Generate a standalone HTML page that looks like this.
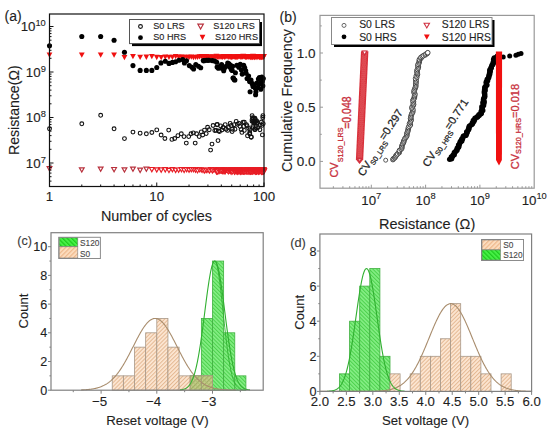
<!DOCTYPE html>
<html><head><meta charset="utf-8"><style>
html,body{margin:0;padding:0;background:#fff;}
svg{display:block;font-family:"Liberation Sans", sans-serif;}
text{stroke:currentColor;stroke-width:0.12px;}
</style></head><body>
<svg width="550" height="429" viewBox="0 0 550 429">
<defs>
<pattern id="hg" patternUnits="userSpaceOnUse" width="2.7" height="2.7" patternTransform="rotate(-45)">
<rect width="2.7" height="2.7" fill="#84ee84"/><rect width="1.0" height="2.7" fill="#4cd04c"/></pattern>
<pattern id="ht" patternUnits="userSpaceOnUse" width="2.8" height="2.8" patternTransform="rotate(45)">
<rect width="2.8" height="2.8" fill="#fce6d2"/><rect width="1.0" height="2.8" fill="#e4b892"/></pattern>
<pattern id="ho" patternUnits="userSpaceOnUse" width="3.2" height="3.2" patternTransform="rotate(45)">
<rect width="3.2" height="3.2" fill="#c4cc88"/><rect width="1.1" height="3.2" fill="#a2ac62"/></pattern>
<pattern id="ho2" patternUnits="userSpaceOnUse" width="3.2" height="3.2" patternTransform="rotate(-45)">
<rect width="1.0" height="3.2" fill="#a8bc70" fill-opacity="0.7"/></pattern>
<pattern id="hgl" patternUnits="userSpaceOnUse" width="3.2" height="3.2" patternTransform="rotate(-45)">
<rect width="3.2" height="3.2" fill="#46f046"/><rect width="1.2" height="3.2" fill="#1ec81e"/></pattern>
<pattern id="htl" patternUnits="userSpaceOnUse" width="3.2" height="3.2" patternTransform="rotate(45)">
<rect width="3.2" height="3.2" fill="#fcdcbe"/><rect width="1.2" height="3.2" fill="#eeb88c"/></pattern>
</defs>
<rect width="550" height="429" fill="#fff"/>
<path d="M47.10 166.65L51.90 166.65L49.50 170.95Z" fill="#fff" stroke="#b8303c" stroke-width="1.15"/>
<path d="M79.39 167.85L84.19 167.85L81.79 172.15Z" fill="#fff" stroke="#b8303c" stroke-width="1.15"/>
<path d="M98.27 167.05L103.07 167.05L100.67 171.35Z" fill="#fff" stroke="#b8303c" stroke-width="1.15"/>
<path d="M111.67 167.45L116.47 167.45L114.07 171.75Z" fill="#fff" stroke="#b8303c" stroke-width="1.15"/>
<path d="M122.06 167.85L126.86 167.85L124.46 172.15Z" fill="#fff" stroke="#b8303c" stroke-width="1.15"/>
<path d="M130.56 167.05L135.36 167.05L132.96 171.35Z" fill="#fff" stroke="#b8303c" stroke-width="1.15"/>
<path d="M137.74 168.15L142.54 168.15L140.14 172.45Z" fill="#fff" stroke="#b8303c" stroke-width="1.15"/>
<path d="M143.96 167.05L148.76 167.05L146.36 171.35Z" fill="#fff" stroke="#b8303c" stroke-width="1.15"/>
<path d="M149.44 167.45L154.24 167.45L151.84 171.75Z" fill="#fff" stroke="#e81c24" stroke-width="1.15"/>
<path d="M154.35 167.85L159.15 167.85L156.75 172.15Z" fill="#fff" stroke="#e81c24" stroke-width="1.15"/>
<path d="M158.79 167.90L163.59 167.90L161.19 172.20Z" fill="#fff" stroke="#e81c24" stroke-width="1.15"/>
<path d="M162.84 167.66L167.64 167.66L165.24 171.96Z" fill="#fff" stroke="#e81c24" stroke-width="1.15"/>
<path d="M166.57 168.36L171.37 168.36L168.97 172.66Z" fill="#fff" stroke="#e81c24" stroke-width="1.15"/>
<path d="M170.02 167.55L174.82 167.55L172.42 171.85Z" fill="#fff" stroke="#e81c24" stroke-width="1.15"/>
<path d="M173.24 168.20L178.04 168.20L175.64 172.50Z" fill="#fff" stroke="#e81c24" stroke-width="1.15"/>
<path d="M176.24 167.96L181.04 167.96L178.64 172.26Z" fill="#fff" stroke="#e81c24" stroke-width="1.15"/>
<path d="M179.07 167.53L183.87 167.53L181.47 171.83Z" fill="#fff" stroke="#e81c24" stroke-width="1.15"/>
<path d="M181.73 168.16L186.53 168.16L184.13 172.46Z" fill="#fff" stroke="#e81c24" stroke-width="1.15"/>
<path d="M184.25 167.50L189.05 167.50L186.65 171.80Z" fill="#fff" stroke="#e81c24" stroke-width="1.15"/>
<path d="M186.64 168.06L191.44 168.06L189.04 172.36Z" fill="#fff" stroke="#e81c24" stroke-width="1.15"/>
<path d="M188.91 167.55L193.71 167.55L191.31 171.85Z" fill="#fff" stroke="#e81c24" stroke-width="1.15"/>
<path d="M191.07 167.58L195.87 167.58L193.47 171.88Z" fill="#fff" stroke="#e81c24" stroke-width="1.15"/>
<path d="M193.15 168.04L197.95 168.04L195.55 172.34Z" fill="#fff" stroke="#e81c24" stroke-width="1.15"/>
<path d="M195.13 168.61L199.93 168.61L197.53 172.91Z" fill="#fff" stroke="#e81c24" stroke-width="1.15"/>
<path d="M197.03 167.62L201.83 167.62L199.43 171.92Z" fill="#fff" stroke="#e81c24" stroke-width="1.15"/>
<path d="M198.86 167.76L203.66 167.76L201.26 172.06Z" fill="#fff" stroke="#e81c24" stroke-width="1.15"/>
<path d="M200.61 168.33L205.41 168.33L203.01 172.63Z" fill="#fff" stroke="#e81c24" stroke-width="1.15"/>
<path d="M202.31 168.78L207.11 168.78L204.71 173.08Z" fill="#fff" stroke="#e81c24" stroke-width="1.15"/>
<path d="M203.94 168.26L208.74 168.26L206.34 172.56Z" fill="#fff" stroke="#e81c24" stroke-width="1.15"/>
<path d="M205.52 168.01L210.32 168.01L207.92 172.31Z" fill="#fff" stroke="#e81c24" stroke-width="1.15"/>
<path d="M207.05 168.82L211.85 168.82L209.45 173.12Z" fill="#fff" stroke="#e81c24" stroke-width="1.15"/>
<path d="M208.53 167.52L213.33 167.52L210.93 171.82Z" fill="#fff" stroke="#e81c24" stroke-width="1.15"/>
<path d="M209.96 168.65L214.76 168.65L212.36 172.95Z" fill="#fff" stroke="#e81c24" stroke-width="1.15"/>
<path d="M211.35 167.86L216.15 167.86L213.75 172.16Z" fill="#fff" stroke="#e81c24" stroke-width="1.15"/>
<path d="M212.70 167.65L217.50 167.65L215.10 171.95Z" fill="#fff" stroke="#e81c24" stroke-width="1.15"/>
<path d="M214.01 167.73L218.81 167.73L216.41 172.03Z" fill="#fff" stroke="#e81c24" stroke-width="1.15"/>
<path d="M215.29 168.19L220.09 168.19L217.69 172.49Z" fill="#fff" stroke="#e81c24" stroke-width="1.15"/>
<path d="M216.53 169.41L221.33 169.41L218.93 173.71Z" fill="#fff" stroke="#e81c24" stroke-width="1.15"/>
<path d="M217.74 167.88L222.54 167.88L220.14 172.18Z" fill="#fff" stroke="#e81c24" stroke-width="1.15"/>
<path d="M218.92 168.85L223.72 168.85L221.32 173.15Z" fill="#fff" stroke="#e81c24" stroke-width="1.15"/>
<path d="M220.07 168.98L224.87 168.98L222.47 173.28Z" fill="#fff" stroke="#e81c24" stroke-width="1.15"/>
<path d="M221.19 168.34L225.99 168.34L223.59 172.64Z" fill="#fff" stroke="#e81c24" stroke-width="1.15"/>
<path d="M222.29 168.76L227.09 168.76L224.69 173.06Z" fill="#fff" stroke="#e81c24" stroke-width="1.15"/>
<path d="M223.36 167.60L228.16 167.60L225.76 171.90Z" fill="#fff" stroke="#e81c24" stroke-width="1.15"/>
<path d="M224.41 167.59L229.21 167.59L226.81 171.89Z" fill="#fff" stroke="#e81c24" stroke-width="1.15"/>
<path d="M225.43 167.94L230.23 167.94L227.83 172.24Z" fill="#fff" stroke="#e81c24" stroke-width="1.15"/>
<path d="M226.43 169.08L231.23 169.08L228.83 173.38Z" fill="#fff" stroke="#e81c24" stroke-width="1.15"/>
<path d="M227.41 168.48L232.21 168.48L229.81 172.78Z" fill="#fff" stroke="#e81c24" stroke-width="1.15"/>
<path d="M228.37 168.20L233.17 168.20L230.77 172.50Z" fill="#fff" stroke="#e81c24" stroke-width="1.15"/>
<path d="M229.31 168.86L234.11 168.86L231.71 173.16Z" fill="#fff" stroke="#e81c24" stroke-width="1.15"/>
<path d="M230.24 168.54L235.04 168.54L232.64 172.84Z" fill="#fff" stroke="#e81c24" stroke-width="1.15"/>
<path d="M231.14 168.17L235.94 168.17L233.54 172.47Z" fill="#fff" stroke="#e81c24" stroke-width="1.15"/>
<path d="M232.03 169.36L236.83 169.36L234.43 173.66Z" fill="#fff" stroke="#e81c24" stroke-width="1.15"/>
<path d="M232.90 169.13L237.70 169.13L235.30 173.43Z" fill="#fff" stroke="#e81c24" stroke-width="1.15"/>
<path d="M233.75 168.04L238.55 168.04L236.15 172.34Z" fill="#fff" stroke="#e81c24" stroke-width="1.15"/>
<path d="M234.59 168.83L239.39 168.83L236.99 173.13Z" fill="#fff" stroke="#e81c24" stroke-width="1.15"/>
<path d="M235.42 168.71L240.22 168.71L237.82 173.01Z" fill="#fff" stroke="#e81c24" stroke-width="1.15"/>
<path d="M236.23 169.55L241.03 169.55L238.63 173.85Z" fill="#fff" stroke="#e81c24" stroke-width="1.15"/>
<path d="M237.02 169.20L241.82 169.20L239.42 173.50Z" fill="#fff" stroke="#e81c24" stroke-width="1.15"/>
<path d="M237.81 168.14L242.61 168.14L240.21 172.44Z" fill="#fff" stroke="#e81c24" stroke-width="1.15"/>
<path d="M238.58 169.80L243.38 169.80L240.98 174.10Z" fill="#fff" stroke="#e81c24" stroke-width="1.15"/>
<path d="M239.33 167.73L244.13 167.73L241.73 172.03Z" fill="#fff" stroke="#e81c24" stroke-width="1.15"/>
<path d="M240.08 168.45L244.88 168.45L242.48 172.75Z" fill="#fff" stroke="#e81c24" stroke-width="1.15"/>
<path d="M240.81 169.27L245.61 169.27L243.21 173.57Z" fill="#fff" stroke="#e81c24" stroke-width="1.15"/>
<path d="M241.53 167.81L246.33 167.81L243.93 172.11Z" fill="#fff" stroke="#e81c24" stroke-width="1.15"/>
<path d="M242.25 168.62L247.05 168.62L244.65 172.92Z" fill="#fff" stroke="#e81c24" stroke-width="1.15"/>
<path d="M242.95 167.54L247.75 167.54L245.35 171.84Z" fill="#fff" stroke="#e81c24" stroke-width="1.15"/>
<path d="M243.64 169.05L248.44 169.05L246.04 173.35Z" fill="#fff" stroke="#e81c24" stroke-width="1.15"/>
<path d="M244.32 169.28L249.12 169.28L246.72 173.58Z" fill="#fff" stroke="#e81c24" stroke-width="1.15"/>
<path d="M244.99 168.83L249.79 168.83L247.39 173.13Z" fill="#fff" stroke="#e81c24" stroke-width="1.15"/>
<path d="M245.65 169.55L250.45 169.55L248.05 173.85Z" fill="#fff" stroke="#e81c24" stroke-width="1.15"/>
<path d="M246.30 168.20L251.10 168.20L248.70 172.50Z" fill="#fff" stroke="#e81c24" stroke-width="1.15"/>
<path d="M246.94 169.12L251.74 169.12L249.34 173.42Z" fill="#fff" stroke="#e81c24" stroke-width="1.15"/>
<path d="M247.58 168.88L252.38 168.88L249.98 173.18Z" fill="#fff" stroke="#e81c24" stroke-width="1.15"/>
<path d="M248.20 168.84L253.00 168.84L250.60 173.14Z" fill="#fff" stroke="#e81c24" stroke-width="1.15"/>
<path d="M248.82 168.54L253.62 168.54L251.22 172.84Z" fill="#fff" stroke="#e81c24" stroke-width="1.15"/>
<path d="M249.43 169.47L254.23 169.47L251.83 173.77Z" fill="#fff" stroke="#e81c24" stroke-width="1.15"/>
<path d="M250.03 169.72L254.83 169.72L252.43 174.02Z" fill="#fff" stroke="#e81c24" stroke-width="1.15"/>
<path d="M250.62 168.59L255.42 168.59L253.02 172.89Z" fill="#fff" stroke="#e81c24" stroke-width="1.15"/>
<path d="M251.21 169.04L256.01 169.04L253.61 173.34Z" fill="#fff" stroke="#e81c24" stroke-width="1.15"/>
<path d="M251.79 167.60L256.59 167.60L254.19 171.90Z" fill="#fff" stroke="#e81c24" stroke-width="1.15"/>
<path d="M252.36 169.13L257.16 169.13L254.76 173.43Z" fill="#fff" stroke="#e81c24" stroke-width="1.15"/>
<path d="M252.92 169.00L257.72 169.00L255.32 173.30Z" fill="#fff" stroke="#e81c24" stroke-width="1.15"/>
<path d="M253.48 169.83L258.28 169.83L255.88 174.13Z" fill="#fff" stroke="#e81c24" stroke-width="1.15"/>
<path d="M254.03 169.42L258.83 169.42L256.43 173.72Z" fill="#fff" stroke="#e81c24" stroke-width="1.15"/>
<path d="M254.57 168.13L259.37 168.13L256.97 172.43Z" fill="#fff" stroke="#e81c24" stroke-width="1.15"/>
<path d="M255.11 168.38L259.91 168.38L257.51 172.68Z" fill="#fff" stroke="#e81c24" stroke-width="1.15"/>
<path d="M255.65 169.05L260.45 169.05L258.05 173.35Z" fill="#fff" stroke="#e81c24" stroke-width="1.15"/>
<path d="M256.17 167.50L260.97 167.50L258.57 171.80Z" fill="#fff" stroke="#e81c24" stroke-width="1.15"/>
<path d="M256.69 168.56L261.49 168.56L259.09 172.86Z" fill="#fff" stroke="#e81c24" stroke-width="1.15"/>
<path d="M257.21 167.85L262.01 167.85L259.61 172.15Z" fill="#fff" stroke="#e81c24" stroke-width="1.15"/>
<path d="M257.72 167.73L262.52 167.73L260.12 172.03Z" fill="#fff" stroke="#e81c24" stroke-width="1.15"/>
<path d="M258.22 167.59L263.02 167.59L260.62 171.89Z" fill="#fff" stroke="#e81c24" stroke-width="1.15"/>
<path d="M258.72 169.29L263.52 169.29L261.12 173.59Z" fill="#fff" stroke="#e81c24" stroke-width="1.15"/>
<path d="M259.21 167.76L264.01 167.76L261.61 172.06Z" fill="#fff" stroke="#e81c24" stroke-width="1.15"/>
<path d="M259.70 168.04L264.50 168.04L262.10 172.34Z" fill="#fff" stroke="#e81c24" stroke-width="1.15"/>
<path d="M260.18 168.39L264.98 168.39L262.58 172.69Z" fill="#fff" stroke="#e81c24" stroke-width="1.15"/>
<path d="M260.66 169.54L265.46 169.54L263.06 173.84Z" fill="#fff" stroke="#e81c24" stroke-width="1.15"/>
<path d="M261.13 167.64L265.93 167.64L263.53 171.94Z" fill="#fff" stroke="#e81c24" stroke-width="1.15"/>
<path d="M261.60 168.53L266.40 168.53L264.00 172.83Z" fill="#fff" stroke="#e81c24" stroke-width="1.15"/>
<path d="M214.08 169.66L218.88 169.66L216.48 173.96Z" fill="#fff" stroke="#e81c24" stroke-width="1.15"/>
<path d="M214.42 169.61L219.22 169.61L216.82 173.91Z" fill="#fff" stroke="#e81c24" stroke-width="1.15"/>
<path d="M215.01 168.49L219.81 168.49L217.41 172.79Z" fill="#fff" stroke="#e81c24" stroke-width="1.15"/>
<path d="M215.11 169.66L219.91 169.66L217.51 173.96Z" fill="#fff" stroke="#e81c24" stroke-width="1.15"/>
<path d="M217.09 167.83L221.89 167.83L219.49 172.13Z" fill="#fff" stroke="#e81c24" stroke-width="1.15"/>
<path d="M216.13 168.03L220.93 168.03L218.53 172.33Z" fill="#fff" stroke="#e81c24" stroke-width="1.15"/>
<path d="M217.42 168.66L222.22 168.66L219.82 172.96Z" fill="#fff" stroke="#e81c24" stroke-width="1.15"/>
<path d="M217.85 168.11L222.65 168.11L220.25 172.41Z" fill="#fff" stroke="#e81c24" stroke-width="1.15"/>
<path d="M218.34 168.50L223.14 168.50L220.74 172.80Z" fill="#fff" stroke="#e81c24" stroke-width="1.15"/>
<path d="M218.77 168.87L223.57 168.87L221.17 173.17Z" fill="#fff" stroke="#e81c24" stroke-width="1.15"/>
<path d="M220.58 169.18L225.38 169.18L222.98 173.48Z" fill="#fff" stroke="#e81c24" stroke-width="1.15"/>
<path d="M220.09 168.99L224.89 168.99L222.49 173.29Z" fill="#fff" stroke="#e81c24" stroke-width="1.15"/>
<path d="M221.39 167.58L226.19 167.58L223.79 171.88Z" fill="#fff" stroke="#e81c24" stroke-width="1.15"/>
<path d="M221.63 169.40L226.43 169.40L224.03 173.70Z" fill="#fff" stroke="#e81c24" stroke-width="1.15"/>
<path d="M222.69 169.44L227.49 169.44L225.09 173.74Z" fill="#fff" stroke="#e81c24" stroke-width="1.15"/>
<path d="M222.17 168.45L226.97 168.45L224.57 172.75Z" fill="#fff" stroke="#e81c24" stroke-width="1.15"/>
<path d="M222.94 169.04L227.74 169.04L225.34 173.34Z" fill="#fff" stroke="#e81c24" stroke-width="1.15"/>
<path d="M222.89 167.62L227.69 167.62L225.29 171.92Z" fill="#fff" stroke="#e81c24" stroke-width="1.15"/>
<path d="M224.10 167.86L228.90 167.86L226.50 172.16Z" fill="#fff" stroke="#e81c24" stroke-width="1.15"/>
<path d="M224.24 167.58L229.04 167.58L226.64 171.88Z" fill="#fff" stroke="#e81c24" stroke-width="1.15"/>
<path d="M224.92 167.83L229.72 167.83L227.32 172.13Z" fill="#fff" stroke="#e81c24" stroke-width="1.15"/>
<path d="M225.03 168.36L229.83 168.36L227.43 172.66Z" fill="#fff" stroke="#e81c24" stroke-width="1.15"/>
<path d="M225.96 169.64L230.76 169.64L228.36 173.94Z" fill="#fff" stroke="#e81c24" stroke-width="1.15"/>
<path d="M226.55 167.82L231.35 167.82L228.95 172.12Z" fill="#fff" stroke="#e81c24" stroke-width="1.15"/>
<path d="M227.17 168.32L231.97 168.32L229.57 172.62Z" fill="#fff" stroke="#e81c24" stroke-width="1.15"/>
<path d="M227.28 167.76L232.08 167.76L229.68 172.06Z" fill="#fff" stroke="#e81c24" stroke-width="1.15"/>
<path d="M228.70 169.93L233.50 169.93L231.10 174.23Z" fill="#fff" stroke="#e81c24" stroke-width="1.15"/>
<path d="M228.34 168.66L233.14 168.66L230.74 172.96Z" fill="#fff" stroke="#e81c24" stroke-width="1.15"/>
<path d="M228.93 167.71L233.73 167.71L231.33 172.01Z" fill="#fff" stroke="#e81c24" stroke-width="1.15"/>
<path d="M229.17 168.11L233.97 168.11L231.57 172.41Z" fill="#fff" stroke="#e81c24" stroke-width="1.15"/>
<path d="M230.54 167.85L235.34 167.85L232.94 172.15Z" fill="#fff" stroke="#e81c24" stroke-width="1.15"/>
<path d="M229.80 169.83L234.60 169.83L232.20 174.13Z" fill="#fff" stroke="#e81c24" stroke-width="1.15"/>
<path d="M231.17 167.82L235.97 167.82L233.57 172.12Z" fill="#fff" stroke="#e81c24" stroke-width="1.15"/>
<path d="M231.18 167.52L235.98 167.52L233.58 171.82Z" fill="#fff" stroke="#e81c24" stroke-width="1.15"/>
<path d="M232.05 169.90L236.85 169.90L234.45 174.20Z" fill="#fff" stroke="#e81c24" stroke-width="1.15"/>
<path d="M232.35 169.19L237.15 169.19L234.75 173.49Z" fill="#fff" stroke="#e81c24" stroke-width="1.15"/>
<path d="M232.69 168.37L237.49 168.37L235.09 172.67Z" fill="#fff" stroke="#e81c24" stroke-width="1.15"/>
<path d="M232.61 169.38L237.41 169.38L235.01 173.68Z" fill="#fff" stroke="#e81c24" stroke-width="1.15"/>
<path d="M233.78 169.40L238.58 169.40L236.18 173.70Z" fill="#fff" stroke="#e81c24" stroke-width="1.15"/>
<path d="M233.61 168.01L238.41 168.01L236.01 172.31Z" fill="#fff" stroke="#e81c24" stroke-width="1.15"/>
<path d="M234.85 169.91L239.65 169.91L237.25 174.21Z" fill="#fff" stroke="#e81c24" stroke-width="1.15"/>
<path d="M234.89 169.47L239.69 169.47L237.29 173.77Z" fill="#fff" stroke="#e81c24" stroke-width="1.15"/>
<path d="M235.68 169.30L240.48 169.30L238.08 173.60Z" fill="#fff" stroke="#e81c24" stroke-width="1.15"/>
<path d="M235.19 168.74L239.99 168.74L237.59 173.04Z" fill="#fff" stroke="#e81c24" stroke-width="1.15"/>
<path d="M236.11 167.52L240.91 167.52L238.51 171.82Z" fill="#fff" stroke="#e81c24" stroke-width="1.15"/>
<path d="M235.85 168.15L240.65 168.15L238.25 172.45Z" fill="#fff" stroke="#e81c24" stroke-width="1.15"/>
<path d="M236.83 169.18L241.63 169.18L239.23 173.48Z" fill="#fff" stroke="#e81c24" stroke-width="1.15"/>
<path d="M237.38 168.57L242.18 168.57L239.78 172.87Z" fill="#fff" stroke="#e81c24" stroke-width="1.15"/>
<path d="M238.14 169.92L242.94 169.92L240.54 174.22Z" fill="#fff" stroke="#e81c24" stroke-width="1.15"/>
<path d="M238.16 168.36L242.96 168.36L240.56 172.66Z" fill="#fff" stroke="#e81c24" stroke-width="1.15"/>
<path d="M238.36 168.02L243.16 168.02L240.76 172.32Z" fill="#fff" stroke="#e81c24" stroke-width="1.15"/>
<path d="M238.34 167.96L243.14 167.96L240.74 172.26Z" fill="#fff" stroke="#e81c24" stroke-width="1.15"/>
<path d="M239.43 169.70L244.23 169.70L241.83 174.00Z" fill="#fff" stroke="#e81c24" stroke-width="1.15"/>
<path d="M239.59 168.65L244.39 168.65L241.99 172.95Z" fill="#fff" stroke="#e81c24" stroke-width="1.15"/>
<path d="M240.19 169.45L244.99 169.45L242.59 173.75Z" fill="#fff" stroke="#e81c24" stroke-width="1.15"/>
<path d="M239.77 169.10L244.57 169.10L242.17 173.40Z" fill="#fff" stroke="#e81c24" stroke-width="1.15"/>
<path d="M241.11 169.41L245.91 169.41L243.51 173.71Z" fill="#fff" stroke="#e81c24" stroke-width="1.15"/>
<path d="M240.99 168.65L245.79 168.65L243.39 172.95Z" fill="#fff" stroke="#e81c24" stroke-width="1.15"/>
<path d="M241.30 169.42L246.10 169.42L243.70 173.72Z" fill="#fff" stroke="#e81c24" stroke-width="1.15"/>
<path d="M241.41 169.45L246.21 169.45L243.81 173.75Z" fill="#fff" stroke="#e81c24" stroke-width="1.15"/>
<path d="M242.58 168.44L247.38 168.44L244.98 172.74Z" fill="#fff" stroke="#e81c24" stroke-width="1.15"/>
<path d="M242.18 169.82L246.98 169.82L244.58 174.12Z" fill="#fff" stroke="#e81c24" stroke-width="1.15"/>
<path d="M243.10 167.88L247.90 167.88L245.50 172.18Z" fill="#fff" stroke="#e81c24" stroke-width="1.15"/>
<path d="M242.69 167.83L247.49 167.83L245.09 172.13Z" fill="#fff" stroke="#e81c24" stroke-width="1.15"/>
<path d="M243.91 169.47L248.71 169.47L246.31 173.77Z" fill="#fff" stroke="#e81c24" stroke-width="1.15"/>
<path d="M243.39 169.52L248.19 169.52L245.79 173.82Z" fill="#fff" stroke="#e81c24" stroke-width="1.15"/>
<path d="M244.64 169.09L249.44 169.09L247.04 173.39Z" fill="#fff" stroke="#e81c24" stroke-width="1.15"/>
<path d="M244.22 168.82L249.02 168.82L246.62 173.12Z" fill="#fff" stroke="#e81c24" stroke-width="1.15"/>
<path d="M244.74 167.49L249.54 167.49L247.14 171.79Z" fill="#fff" stroke="#e81c24" stroke-width="1.15"/>
<path d="M245.30 169.07L250.10 169.07L247.70 173.37Z" fill="#fff" stroke="#e81c24" stroke-width="1.15"/>
<path d="M245.66 169.78L250.46 169.78L248.06 174.08Z" fill="#fff" stroke="#e81c24" stroke-width="1.15"/>
<path d="M245.60 169.63L250.40 169.63L248.00 173.93Z" fill="#fff" stroke="#e81c24" stroke-width="1.15"/>
<path d="M246.51 167.98L251.31 167.98L248.91 172.28Z" fill="#fff" stroke="#e81c24" stroke-width="1.15"/>
<path d="M246.14 168.18L250.94 168.18L248.54 172.48Z" fill="#fff" stroke="#e81c24" stroke-width="1.15"/>
<path d="M246.78 168.92L251.58 168.92L249.18 173.22Z" fill="#fff" stroke="#e81c24" stroke-width="1.15"/>
<path d="M246.79 168.50L251.59 168.50L249.19 172.80Z" fill="#fff" stroke="#e81c24" stroke-width="1.15"/>
<path d="M247.34 169.73L252.14 169.73L249.74 174.03Z" fill="#fff" stroke="#e81c24" stroke-width="1.15"/>
<path d="M247.48 168.60L252.28 168.60L249.88 172.90Z" fill="#fff" stroke="#e81c24" stroke-width="1.15"/>
<path d="M248.25 169.71L253.05 169.71L250.65 174.01Z" fill="#fff" stroke="#e81c24" stroke-width="1.15"/>
<path d="M248.15 169.74L252.95 169.74L250.55 174.04Z" fill="#fff" stroke="#e81c24" stroke-width="1.15"/>
<path d="M248.82 168.78L253.62 168.78L251.22 173.08Z" fill="#fff" stroke="#e81c24" stroke-width="1.15"/>
<path d="M248.83 167.50L253.63 167.50L251.23 171.80Z" fill="#fff" stroke="#e81c24" stroke-width="1.15"/>
<path d="M249.39 167.91L254.19 167.91L251.79 172.21Z" fill="#fff" stroke="#e81c24" stroke-width="1.15"/>
<path d="M249.13 169.45L253.93 169.45L251.53 173.75Z" fill="#fff" stroke="#e81c24" stroke-width="1.15"/>
<path d="M249.83 168.63L254.63 168.63L252.23 172.93Z" fill="#fff" stroke="#e81c24" stroke-width="1.15"/>
<path d="M250.16 168.84L254.96 168.84L252.56 173.14Z" fill="#fff" stroke="#e81c24" stroke-width="1.15"/>
<path d="M250.52 168.75L255.32 168.75L252.92 173.05Z" fill="#fff" stroke="#e81c24" stroke-width="1.15"/>
<path d="M250.65 169.41L255.45 169.41L253.05 173.71Z" fill="#fff" stroke="#e81c24" stroke-width="1.15"/>
<path d="M250.98 168.85L255.78 168.85L253.38 173.15Z" fill="#fff" stroke="#e81c24" stroke-width="1.15"/>
<path d="M251.06 168.14L255.86 168.14L253.46 172.44Z" fill="#fff" stroke="#e81c24" stroke-width="1.15"/>
<path d="M251.94 168.72L256.74 168.72L254.34 173.02Z" fill="#fff" stroke="#e81c24" stroke-width="1.15"/>
<path d="M251.82 169.35L256.62 169.35L254.22 173.65Z" fill="#fff" stroke="#e81c24" stroke-width="1.15"/>
<path d="M252.59 168.56L257.39 168.56L254.99 172.86Z" fill="#fff" stroke="#e81c24" stroke-width="1.15"/>
<path d="M252.42 168.71L257.22 168.71L254.82 173.01Z" fill="#fff" stroke="#e81c24" stroke-width="1.15"/>
<path d="M252.93 169.18L257.73 169.18L255.33 173.48Z" fill="#fff" stroke="#e81c24" stroke-width="1.15"/>
<path d="M252.89 168.78L257.69 168.78L255.29 173.08Z" fill="#fff" stroke="#e81c24" stroke-width="1.15"/>
<path d="M253.47 169.80L258.27 169.80L255.87 174.10Z" fill="#fff" stroke="#e81c24" stroke-width="1.15"/>
<path d="M253.59 169.64L258.39 169.64L255.99 173.94Z" fill="#fff" stroke="#e81c24" stroke-width="1.15"/>
<path d="M254.27 168.10L259.07 168.10L256.67 172.40Z" fill="#fff" stroke="#e81c24" stroke-width="1.15"/>
<path d="M254.06 169.81L258.86 169.81L256.46 174.11Z" fill="#fff" stroke="#e81c24" stroke-width="1.15"/>
<path d="M254.76 167.79L259.56 167.79L257.16 172.09Z" fill="#fff" stroke="#e81c24" stroke-width="1.15"/>
<path d="M254.37 168.56L259.17 168.56L256.77 172.86Z" fill="#fff" stroke="#e81c24" stroke-width="1.15"/>
<path d="M254.88 168.05L259.68 168.05L257.28 172.35Z" fill="#fff" stroke="#e81c24" stroke-width="1.15"/>
<path d="M254.88 169.12L259.68 169.12L257.28 173.42Z" fill="#fff" stroke="#e81c24" stroke-width="1.15"/>
<path d="M255.80 169.69L260.60 169.69L258.20 173.99Z" fill="#fff" stroke="#e81c24" stroke-width="1.15"/>
<path d="M255.46 169.24L260.26 169.24L257.86 173.54Z" fill="#fff" stroke="#e81c24" stroke-width="1.15"/>
<path d="M256.26 167.81L261.06 167.81L258.66 172.11Z" fill="#fff" stroke="#e81c24" stroke-width="1.15"/>
<path d="M256.37 169.87L261.17 169.87L258.77 174.17Z" fill="#fff" stroke="#e81c24" stroke-width="1.15"/>
<path d="M256.55 169.83L261.35 169.83L258.95 174.13Z" fill="#fff" stroke="#e81c24" stroke-width="1.15"/>
<path d="M256.64 168.67L261.44 168.67L259.04 172.97Z" fill="#fff" stroke="#e81c24" stroke-width="1.15"/>
<path d="M257.46 169.53L262.26 169.53L259.86 173.83Z" fill="#fff" stroke="#e81c24" stroke-width="1.15"/>
<path d="M257.03 168.53L261.83 168.53L259.43 172.83Z" fill="#fff" stroke="#e81c24" stroke-width="1.15"/>
<path d="M257.72 168.30L262.52 168.30L260.12 172.60Z" fill="#fff" stroke="#e81c24" stroke-width="1.15"/>
<path d="M257.56 168.25L262.36 168.25L259.96 172.55Z" fill="#fff" stroke="#e81c24" stroke-width="1.15"/>
<path d="M258.33 167.50L263.13 167.50L260.73 171.80Z" fill="#fff" stroke="#e81c24" stroke-width="1.15"/>
<path d="M258.25 168.55L263.05 168.55L260.65 172.85Z" fill="#fff" stroke="#e81c24" stroke-width="1.15"/>
<path d="M258.48 168.28L263.28 168.28L260.88 172.58Z" fill="#fff" stroke="#e81c24" stroke-width="1.15"/>
<path d="M258.78 168.73L263.58 168.73L261.18 173.03Z" fill="#fff" stroke="#e81c24" stroke-width="1.15"/>
<path d="M259.00 169.91L263.80 169.91L261.40 174.21Z" fill="#fff" stroke="#e81c24" stroke-width="1.15"/>
<path d="M259.35 169.88L264.15 169.88L261.75 174.18Z" fill="#fff" stroke="#e81c24" stroke-width="1.15"/>
<path d="M259.51 168.11L264.31 168.11L261.91 172.41Z" fill="#fff" stroke="#e81c24" stroke-width="1.15"/>
<path d="M259.47 169.40L264.27 169.40L261.87 173.70Z" fill="#fff" stroke="#e81c24" stroke-width="1.15"/>
<path d="M260.07 167.77L264.87 167.77L262.47 172.07Z" fill="#fff" stroke="#e81c24" stroke-width="1.15"/>
<path d="M260.14 169.73L264.94 169.73L262.54 174.03Z" fill="#fff" stroke="#e81c24" stroke-width="1.15"/>
<path d="M260.81 168.10L265.61 168.10L263.21 172.40Z" fill="#fff" stroke="#e81c24" stroke-width="1.15"/>
<path d="M260.49 169.75L265.29 169.75L262.89 174.05Z" fill="#fff" stroke="#e81c24" stroke-width="1.15"/>
<path d="M261.17 169.20L265.97 169.20L263.57 173.50Z" fill="#fff" stroke="#e81c24" stroke-width="1.15"/>
<path d="M260.94 167.59L265.74 167.59L263.34 171.89Z" fill="#fff" stroke="#e81c24" stroke-width="1.15"/>
<path d="M261.69 168.51L266.49 168.51L264.09 172.81Z" fill="#fff" stroke="#e81c24" stroke-width="1.15"/>
<path d="M261.40 169.80L266.20 169.80L263.80 174.10Z" fill="#fff" stroke="#e81c24" stroke-width="1.15"/>
<path d="M220.79 168.16L226.39 168.16L223.59 172.76Z" fill="#e81c24" stroke="none" stroke-width="1"/>
<path d="M222.96 168.36L228.56 168.36L225.76 172.96Z" fill="#e81c24" stroke="none" stroke-width="1"/>
<path d="M225.03 167.50L230.63 167.50L227.83 172.10Z" fill="#e81c24" stroke="none" stroke-width="1"/>
<path d="M227.01 168.43L232.61 168.43L229.81 173.03Z" fill="#e81c24" stroke="none" stroke-width="1"/>
<path d="M228.91 167.48L234.51 167.48L231.71 172.08Z" fill="#e81c24" stroke="none" stroke-width="1"/>
<path d="M230.74 168.44L236.34 168.44L233.54 173.04Z" fill="#e81c24" stroke="none" stroke-width="1"/>
<path d="M232.50 167.94L238.10 167.94L235.30 172.54Z" fill="#e81c24" stroke="none" stroke-width="1"/>
<path d="M234.19 167.81L239.79 167.81L236.99 172.41Z" fill="#e81c24" stroke="none" stroke-width="1"/>
<path d="M235.83 168.06L241.43 168.06L238.63 172.66Z" fill="#e81c24" stroke="none" stroke-width="1"/>
<path d="M237.41 168.51L243.01 168.51L240.21 173.11Z" fill="#e81c24" stroke="none" stroke-width="1"/>
<path d="M238.93 167.72L244.53 167.72L241.73 172.32Z" fill="#e81c24" stroke="none" stroke-width="1"/>
<path d="M240.41 167.56L246.01 167.56L243.21 172.16Z" fill="#e81c24" stroke="none" stroke-width="1"/>
<path d="M241.85 168.03L247.45 168.03L244.65 172.63Z" fill="#e81c24" stroke="none" stroke-width="1"/>
<path d="M243.24 167.69L248.84 167.69L246.04 172.29Z" fill="#e81c24" stroke="none" stroke-width="1"/>
<path d="M244.59 167.53L250.19 167.53L247.39 172.13Z" fill="#e81c24" stroke="none" stroke-width="1"/>
<path d="M245.90 167.59L251.50 167.59L248.70 172.19Z" fill="#e81c24" stroke="none" stroke-width="1"/>
<path d="M247.18 167.46L252.78 167.46L249.98 172.06Z" fill="#e81c24" stroke="none" stroke-width="1"/>
<path d="M248.42 167.64L254.02 167.64L251.22 172.24Z" fill="#e81c24" stroke="none" stroke-width="1"/>
<path d="M249.63 167.77L255.23 167.77L252.43 172.37Z" fill="#e81c24" stroke="none" stroke-width="1"/>
<path d="M250.81 167.77L256.41 167.77L253.61 172.37Z" fill="#e81c24" stroke="none" stroke-width="1"/>
<path d="M251.96 168.31L257.56 168.31L254.76 172.91Z" fill="#e81c24" stroke="none" stroke-width="1"/>
<path d="M253.08 167.75L258.68 167.75L255.88 172.35Z" fill="#e81c24" stroke="none" stroke-width="1"/>
<path d="M254.17 168.00L259.77 168.00L256.97 172.60Z" fill="#e81c24" stroke="none" stroke-width="1"/>
<path d="M255.25 167.61L260.85 167.61L258.05 172.21Z" fill="#e81c24" stroke="none" stroke-width="1"/>
<path d="M256.29 167.82L261.89 167.82L259.09 172.42Z" fill="#e81c24" stroke="none" stroke-width="1"/>
<path d="M257.32 167.42L262.92 167.42L260.12 172.02Z" fill="#e81c24" stroke="none" stroke-width="1"/>
<path d="M258.32 167.70L263.92 167.70L261.12 172.30Z" fill="#e81c24" stroke="none" stroke-width="1"/>
<path d="M259.30 167.42L264.90 167.42L262.10 172.02Z" fill="#e81c24" stroke="none" stroke-width="1"/>
<path d="M260.26 168.28L265.86 168.28L263.06 172.88Z" fill="#e81c24" stroke="none" stroke-width="1"/>
<path d="M261.20 168.06L266.80 168.06L264.00 172.66Z" fill="#e81c24" stroke="none" stroke-width="1"/>
<circle cx="49.50" cy="128.80" r="1.9" fill="none" stroke="#111" stroke-width="1.1"/>
<circle cx="81.79" cy="123.80" r="1.9" fill="none" stroke="#111" stroke-width="1.1"/>
<circle cx="100.67" cy="115.30" r="1.9" fill="none" stroke="#111" stroke-width="1.1"/>
<circle cx="114.07" cy="128.80" r="1.9" fill="none" stroke="#111" stroke-width="1.1"/>
<circle cx="124.46" cy="138.60" r="1.9" fill="none" stroke="#111" stroke-width="1.1"/>
<circle cx="132.96" cy="132.10" r="1.9" fill="none" stroke="#111" stroke-width="1.1"/>
<circle cx="140.14" cy="133.20" r="1.9" fill="none" stroke="#111" stroke-width="1.1"/>
<circle cx="146.36" cy="133.80" r="1.9" fill="none" stroke="#111" stroke-width="1.1"/>
<circle cx="151.84" cy="132.50" r="1.9" fill="none" stroke="#111" stroke-width="1.1"/>
<circle cx="156.75" cy="129.90" r="1.9" fill="none" stroke="#111" stroke-width="1.1"/>
<circle cx="161.10" cy="135.00" r="1.9" fill="none" stroke="#111" stroke-width="1.1"/>
<circle cx="164.90" cy="138.50" r="1.9" fill="none" stroke="#111" stroke-width="1.1"/>
<circle cx="168.70" cy="130.10" r="1.9" fill="none" stroke="#111" stroke-width="1.1"/>
<circle cx="171.90" cy="139.40" r="1.9" fill="none" stroke="#111" stroke-width="1.1"/>
<circle cx="174.70" cy="138.50" r="1.9" fill="none" stroke="#111" stroke-width="1.1"/>
<circle cx="177.90" cy="135.70" r="1.9" fill="none" stroke="#111" stroke-width="1.1"/>
<circle cx="181.30" cy="133.80" r="1.9" fill="none" stroke="#111" stroke-width="1.1"/>
<circle cx="184.00" cy="136.60" r="1.9" fill="none" stroke="#111" stroke-width="1.1"/>
<circle cx="186.30" cy="143.10" r="1.9" fill="none" stroke="#111" stroke-width="1.1"/>
<circle cx="188.70" cy="136.60" r="1.9" fill="none" stroke="#111" stroke-width="1.1"/>
<circle cx="191.00" cy="133.80" r="1.9" fill="none" stroke="#111" stroke-width="1.1"/>
<circle cx="193.30" cy="132.90" r="1.9" fill="none" stroke="#111" stroke-width="1.1"/>
<circle cx="195.20" cy="143.10" r="1.9" fill="none" stroke="#111" stroke-width="1.1"/>
<circle cx="196.60" cy="133.80" r="1.9" fill="none" stroke="#111" stroke-width="1.1"/>
<circle cx="199.20" cy="136.60" r="1.9" fill="none" stroke="#111" stroke-width="1.1"/>
<circle cx="201.30" cy="131.90" r="1.9" fill="none" stroke="#111" stroke-width="1.1"/>
<circle cx="202.70" cy="135.00" r="1.9" fill="none" stroke="#111" stroke-width="1.1"/>
<circle cx="204.50" cy="130.10" r="1.9" fill="none" stroke="#111" stroke-width="1.1"/>
<circle cx="206.20" cy="133.60" r="1.9" fill="none" stroke="#111" stroke-width="1.1"/>
<circle cx="207.60" cy="127.30" r="1.9" fill="none" stroke="#111" stroke-width="1.1"/>
<circle cx="209.20" cy="129.70" r="1.9" fill="none" stroke="#111" stroke-width="1.1"/>
<circle cx="210.60" cy="150.10" r="1.9" fill="none" stroke="#111" stroke-width="1.1"/>
<circle cx="212.00" cy="144.10" r="1.9" fill="none" stroke="#111" stroke-width="1.1"/>
<circle cx="213.10" cy="125.50" r="1.9" fill="none" stroke="#111" stroke-width="1.1"/>
<circle cx="214.80" cy="130.50" r="1.9" fill="none" stroke="#111" stroke-width="1.1"/>
<circle cx="217.30" cy="124.50" r="1.9" fill="none" stroke="#111" stroke-width="1.1"/>
<circle cx="218.00" cy="140.60" r="1.9" fill="none" stroke="#111" stroke-width="1.1"/>
<circle cx="218.70" cy="131.00" r="1.9" fill="none" stroke="#111" stroke-width="1.1"/>
<circle cx="217.00" cy="124.70" r="1.9" fill="none" stroke="#111" stroke-width="1.1"/>
<circle cx="216.20" cy="130.40" r="1.9" fill="none" stroke="#111" stroke-width="1.1"/>
<circle cx="219.50" cy="131.60" r="1.9" fill="none" stroke="#111" stroke-width="1.1"/>
<circle cx="220.70" cy="125.90" r="1.9" fill="none" stroke="#111" stroke-width="1.1"/>
<circle cx="221.90" cy="130.00" r="1.9" fill="none" stroke="#111" stroke-width="1.1"/>
<circle cx="223.10" cy="127.50" r="1.9" fill="none" stroke="#111" stroke-width="1.1"/>
<circle cx="225.20" cy="124.70" r="1.9" fill="none" stroke="#111" stroke-width="1.1"/>
<circle cx="226.00" cy="129.20" r="1.9" fill="none" stroke="#111" stroke-width="1.1"/>
<circle cx="227.60" cy="130.40" r="1.9" fill="none" stroke="#111" stroke-width="1.1"/>
<circle cx="228.40" cy="127.50" r="1.9" fill="none" stroke="#111" stroke-width="1.1"/>
<circle cx="230.10" cy="123.40" r="1.9" fill="none" stroke="#111" stroke-width="1.1"/>
<circle cx="231.30" cy="125.50" r="1.9" fill="none" stroke="#111" stroke-width="1.1"/>
<circle cx="232.10" cy="131.60" r="1.9" fill="none" stroke="#111" stroke-width="1.1"/>
<circle cx="232.50" cy="129.20" r="1.9" fill="none" stroke="#111" stroke-width="1.1"/>
<circle cx="234.20" cy="124.70" r="1.9" fill="none" stroke="#111" stroke-width="1.1"/>
<circle cx="235.00" cy="129.20" r="1.9" fill="none" stroke="#111" stroke-width="1.1"/>
<circle cx="236.20" cy="121.40" r="1.9" fill="none" stroke="#111" stroke-width="1.1"/>
<circle cx="237.40" cy="124.30" r="1.9" fill="none" stroke="#111" stroke-width="1.1"/>
<circle cx="239.00" cy="123.40" r="1.9" fill="none" stroke="#111" stroke-width="1.1"/>
<circle cx="239.90" cy="126.30" r="1.9" fill="none" stroke="#111" stroke-width="1.1"/>
<circle cx="241.10" cy="129.60" r="1.9" fill="none" stroke="#111" stroke-width="1.1"/>
<circle cx="241.90" cy="132.40" r="1.9" fill="none" stroke="#111" stroke-width="1.1"/>
<circle cx="243.10" cy="122.20" r="1.9" fill="none" stroke="#111" stroke-width="1.1"/>
<circle cx="243.90" cy="126.30" r="1.9" fill="none" stroke="#111" stroke-width="1.1"/>
<circle cx="244.30" cy="130.40" r="1.9" fill="none" stroke="#111" stroke-width="1.1"/>
<circle cx="262.90" cy="115.70" r="1.9" fill="none" stroke="#111" stroke-width="1.1"/>
<circle cx="262.40" cy="134.90" r="1.9" fill="none" stroke="#111" stroke-width="1.1"/>
<circle cx="252.10" cy="115.70" r="1.9" fill="none" stroke="#111" stroke-width="1.1"/>
<circle cx="253.50" cy="118.10" r="1.9" fill="none" stroke="#111" stroke-width="1.1"/>
<circle cx="247.50" cy="135.80" r="1.9" fill="none" stroke="#111" stroke-width="1.1"/>
<circle cx="251.20" cy="137.20" r="1.9" fill="none" stroke="#111" stroke-width="1.1"/>
<circle cx="249.80" cy="134.00" r="1.9" fill="none" stroke="#111" stroke-width="1.1"/>
<circle cx="255.00" cy="129.30" r="1.9" fill="none" stroke="#111" stroke-width="1.1"/>
<circle cx="251.30" cy="137.00" r="1.9" fill="none" stroke="#111" stroke-width="1.1"/>
<circle cx="254.18" cy="122.65" r="1.9" fill="none" stroke="#111" stroke-width="1.1"/>
<circle cx="262.75" cy="117.49" r="1.9" fill="none" stroke="#111" stroke-width="1.1"/>
<circle cx="261.42" cy="122.05" r="1.9" fill="none" stroke="#111" stroke-width="1.1"/>
<circle cx="257.69" cy="127.68" r="1.9" fill="none" stroke="#111" stroke-width="1.1"/>
<circle cx="256.52" cy="123.09" r="1.9" fill="none" stroke="#111" stroke-width="1.1"/>
<circle cx="259.91" cy="129.75" r="1.9" fill="none" stroke="#111" stroke-width="1.1"/>
<circle cx="255.94" cy="127.65" r="1.9" fill="none" stroke="#111" stroke-width="1.1"/>
<circle cx="260.13" cy="124.90" r="1.9" fill="none" stroke="#111" stroke-width="1.1"/>
<circle cx="256.65" cy="120.87" r="1.9" fill="none" stroke="#111" stroke-width="1.1"/>
<circle cx="252.63" cy="117.82" r="1.9" fill="none" stroke="#111" stroke-width="1.1"/>
<circle cx="252.81" cy="126.37" r="1.9" fill="none" stroke="#111" stroke-width="1.1"/>
<circle cx="254.94" cy="118.29" r="1.9" fill="none" stroke="#111" stroke-width="1.1"/>
<circle cx="252.97" cy="127.78" r="1.9" fill="none" stroke="#111" stroke-width="1.1"/>
<circle cx="262.01" cy="125.39" r="1.9" fill="none" stroke="#111" stroke-width="1.1"/>
<circle cx="255.24" cy="119.39" r="1.9" fill="none" stroke="#111" stroke-width="1.1"/>
<circle cx="255.37" cy="122.43" r="1.9" fill="none" stroke="#111" stroke-width="1.1"/>
<circle cx="253.81" cy="122.24" r="1.9" fill="none" stroke="#111" stroke-width="1.1"/>
<circle cx="255.03" cy="129.47" r="1.9" fill="none" stroke="#111" stroke-width="1.1"/>
<circle cx="263.19" cy="123.66" r="1.9" fill="none" stroke="#111" stroke-width="1.1"/>
<circle cx="254.81" cy="129.52" r="1.9" fill="none" stroke="#111" stroke-width="1.1"/>
<circle cx="255.56" cy="120.99" r="1.9" fill="none" stroke="#111" stroke-width="1.1"/>
<circle cx="252.01" cy="121.34" r="1.9" fill="none" stroke="#111" stroke-width="1.1"/>
<circle cx="257.46" cy="123.04" r="1.9" fill="none" stroke="#111" stroke-width="1.1"/>
<circle cx="254.31" cy="123.07" r="1.9" fill="none" stroke="#111" stroke-width="1.1"/>
<circle cx="252.06" cy="119.70" r="1.9" fill="none" stroke="#111" stroke-width="1.1"/>
<circle cx="253.03" cy="121.59" r="1.9" fill="none" stroke="#111" stroke-width="1.1"/>
<circle cx="244.33" cy="122.27" r="1.9" fill="none" stroke="#111" stroke-width="1.1"/>
<circle cx="246.43" cy="124.79" r="1.9" fill="none" stroke="#111" stroke-width="1.1"/>
<circle cx="248.68" cy="128.35" r="1.9" fill="none" stroke="#111" stroke-width="1.1"/>
<circle cx="250.00" cy="129.89" r="1.9" fill="none" stroke="#111" stroke-width="1.1"/>
<circle cx="249.73" cy="132.55" r="1.9" fill="none" stroke="#111" stroke-width="1.1"/>
<circle cx="247.12" cy="125.91" r="1.9" fill="none" stroke="#111" stroke-width="1.1"/>
<path d="M46.60 52.45L52.40 52.45L49.50 57.75Z" fill="#f01010" stroke="none" stroke-width="1"/>
<path d="M78.89 52.45L84.69 52.45L81.79 57.75Z" fill="#f01010" stroke="none" stroke-width="1"/>
<path d="M97.77 52.45L103.57 52.45L100.67 57.75Z" fill="#f01010" stroke="none" stroke-width="1"/>
<path d="M111.17 52.45L116.97 52.45L114.07 57.75Z" fill="#f01010" stroke="none" stroke-width="1"/>
<path d="M121.56 55.03L127.36 55.03L124.46 60.33Z" fill="#f01010" stroke="none" stroke-width="1"/>
<path d="M130.06 54.03L135.86 54.03L132.96 59.33Z" fill="#f01010" stroke="none" stroke-width="1"/>
<path d="M137.24 54.72L143.04 54.72L140.14 60.02Z" fill="#f01010" stroke="none" stroke-width="1"/>
<path d="M143.46 54.62L149.26 54.62L146.36 59.92Z" fill="#f01010" stroke="none" stroke-width="1"/>
<path d="M148.94 53.90L154.74 53.90L151.84 59.20Z" fill="#f01010" stroke="none" stroke-width="1"/>
<path d="M153.85 54.85L159.65 54.85L156.75 60.15Z" fill="#f01010" stroke="none" stroke-width="1"/>
<path d="M158.29 54.92L164.09 54.92L161.19 60.22Z" fill="#f01010" stroke="none" stroke-width="1"/>
<path d="M162.34 54.60L168.14 54.60L165.24 59.90Z" fill="#f01010" stroke="none" stroke-width="1"/>
<path d="M166.07 54.73L171.87 54.73L168.97 60.03Z" fill="#f01010" stroke="none" stroke-width="1"/>
<path d="M169.52 54.82L175.32 54.82L172.42 60.12Z" fill="#f01010" stroke="none" stroke-width="1"/>
<path d="M172.74 54.02L178.54 54.02L175.64 59.32Z" fill="#f01010" stroke="none" stroke-width="1"/>
<path d="M175.74 54.48L181.54 54.48L178.64 59.78Z" fill="#f01010" stroke="none" stroke-width="1"/>
<path d="M178.57 54.46L184.37 54.46L181.47 59.76Z" fill="#f01010" stroke="none" stroke-width="1"/>
<path d="M181.23 54.85L187.03 54.85L184.13 60.15Z" fill="#f01010" stroke="none" stroke-width="1"/>
<path d="M183.75 54.82L189.55 54.82L186.65 60.12Z" fill="#f01010" stroke="none" stroke-width="1"/>
<path d="M186.14 54.84L191.94 54.84L189.04 60.14Z" fill="#f01010" stroke="none" stroke-width="1"/>
<path d="M188.41 54.55L194.21 54.55L191.31 59.85Z" fill="#f01010" stroke="none" stroke-width="1"/>
<path d="M190.57 54.92L196.37 54.92L193.47 60.22Z" fill="#f01010" stroke="none" stroke-width="1"/>
<path d="M192.65 54.67L198.45 54.67L195.55 59.97Z" fill="#f01010" stroke="none" stroke-width="1"/>
<path d="M194.63 54.68L200.43 54.68L197.53 59.98Z" fill="#f01010" stroke="none" stroke-width="1"/>
<path d="M196.53 54.13L202.33 54.13L199.43 59.43Z" fill="#f01010" stroke="none" stroke-width="1"/>
<path d="M198.36 53.89L204.16 53.89L201.26 59.19Z" fill="#f01010" stroke="none" stroke-width="1"/>
<path d="M200.11 54.01L205.91 54.01L203.01 59.31Z" fill="#f01010" stroke="none" stroke-width="1"/>
<path d="M201.81 54.28L207.61 54.28L204.71 59.58Z" fill="#f01010" stroke="none" stroke-width="1"/>
<path d="M203.44 53.98L209.24 53.98L206.34 59.28Z" fill="#f01010" stroke="none" stroke-width="1"/>
<path d="M205.02 54.85L210.82 54.85L207.92 60.15Z" fill="#f01010" stroke="none" stroke-width="1"/>
<path d="M206.55 54.52L212.35 54.52L209.45 59.82Z" fill="#f01010" stroke="none" stroke-width="1"/>
<path d="M208.03 54.60L213.83 54.60L210.93 59.90Z" fill="#f01010" stroke="none" stroke-width="1"/>
<path d="M209.46 54.60L215.26 54.60L212.36 59.90Z" fill="#f01010" stroke="none" stroke-width="1"/>
<path d="M210.85 54.67L216.65 54.67L213.75 59.97Z" fill="#f01010" stroke="none" stroke-width="1"/>
<path d="M212.20 54.44L218.00 54.44L215.10 59.74Z" fill="#f01010" stroke="none" stroke-width="1"/>
<path d="M213.51 53.85L219.31 53.85L216.41 59.15Z" fill="#f01010" stroke="none" stroke-width="1"/>
<path d="M214.79 54.81L220.59 54.81L217.69 60.11Z" fill="#f01010" stroke="none" stroke-width="1"/>
<path d="M216.03 54.75L221.83 54.75L218.93 60.05Z" fill="#f01010" stroke="none" stroke-width="1"/>
<path d="M217.24 54.45L223.04 54.45L220.14 59.75Z" fill="#f01010" stroke="none" stroke-width="1"/>
<path d="M218.42 54.49L224.22 54.49L221.32 59.79Z" fill="#f01010" stroke="none" stroke-width="1"/>
<path d="M219.57 54.64L225.37 54.64L222.47 59.94Z" fill="#f01010" stroke="none" stroke-width="1"/>
<path d="M220.69 53.93L226.49 53.93L223.59 59.23Z" fill="#f01010" stroke="none" stroke-width="1"/>
<path d="M221.79 54.73L227.59 54.73L224.69 60.03Z" fill="#f01010" stroke="none" stroke-width="1"/>
<path d="M222.86 54.15L228.66 54.15L225.76 59.45Z" fill="#f01010" stroke="none" stroke-width="1"/>
<path d="M223.91 53.94L229.71 53.94L226.81 59.24Z" fill="#f01010" stroke="none" stroke-width="1"/>
<path d="M224.93 54.17L230.73 54.17L227.83 59.47Z" fill="#f01010" stroke="none" stroke-width="1"/>
<path d="M225.93 54.73L231.73 54.73L228.83 60.03Z" fill="#f01010" stroke="none" stroke-width="1"/>
<path d="M226.91 54.10L232.71 54.10L229.81 59.40Z" fill="#f01010" stroke="none" stroke-width="1"/>
<path d="M227.87 54.74L233.67 54.74L230.77 60.04Z" fill="#f01010" stroke="none" stroke-width="1"/>
<path d="M228.81 55.02L234.61 55.02L231.71 60.32Z" fill="#f01010" stroke="none" stroke-width="1"/>
<path d="M229.74 54.44L235.54 54.44L232.64 59.74Z" fill="#f01010" stroke="none" stroke-width="1"/>
<path d="M230.64 54.31L236.44 54.31L233.54 59.61Z" fill="#f01010" stroke="none" stroke-width="1"/>
<path d="M231.53 54.42L237.33 54.42L234.43 59.72Z" fill="#f01010" stroke="none" stroke-width="1"/>
<path d="M232.40 54.67L238.20 54.67L235.30 59.97Z" fill="#f01010" stroke="none" stroke-width="1"/>
<path d="M233.25 54.77L239.05 54.77L236.15 60.07Z" fill="#f01010" stroke="none" stroke-width="1"/>
<path d="M234.09 54.59L239.89 54.59L236.99 59.89Z" fill="#f01010" stroke="none" stroke-width="1"/>
<path d="M234.92 54.62L240.72 54.62L237.82 59.92Z" fill="#f01010" stroke="none" stroke-width="1"/>
<path d="M235.73 53.94L241.53 53.94L238.63 59.24Z" fill="#f01010" stroke="none" stroke-width="1"/>
<path d="M236.52 54.03L242.32 54.03L239.42 59.33Z" fill="#f01010" stroke="none" stroke-width="1"/>
<path d="M237.31 54.15L243.11 54.15L240.21 59.45Z" fill="#f01010" stroke="none" stroke-width="1"/>
<path d="M238.08 54.74L243.88 54.74L240.98 60.04Z" fill="#f01010" stroke="none" stroke-width="1"/>
<path d="M238.83 54.22L244.63 54.22L241.73 59.52Z" fill="#f01010" stroke="none" stroke-width="1"/>
<path d="M239.58 54.53L245.38 54.53L242.48 59.83Z" fill="#f01010" stroke="none" stroke-width="1"/>
<path d="M240.31 53.86L246.11 53.86L243.21 59.16Z" fill="#f01010" stroke="none" stroke-width="1"/>
<path d="M241.03 53.92L246.83 53.92L243.93 59.22Z" fill="#f01010" stroke="none" stroke-width="1"/>
<path d="M241.75 54.17L247.55 54.17L244.65 59.47Z" fill="#f01010" stroke="none" stroke-width="1"/>
<path d="M242.45 54.66L248.25 54.66L245.35 59.96Z" fill="#f01010" stroke="none" stroke-width="1"/>
<path d="M243.14 54.68L248.94 54.68L246.04 59.98Z" fill="#f01010" stroke="none" stroke-width="1"/>
<path d="M243.82 54.66L249.62 54.66L246.72 59.96Z" fill="#f01010" stroke="none" stroke-width="1"/>
<path d="M244.49 54.20L250.29 54.20L247.39 59.50Z" fill="#f01010" stroke="none" stroke-width="1"/>
<path d="M245.15 54.47L250.95 54.47L248.05 59.77Z" fill="#f01010" stroke="none" stroke-width="1"/>
<path d="M245.80 54.41L251.60 54.41L248.70 59.71Z" fill="#f01010" stroke="none" stroke-width="1"/>
<path d="M246.44 54.41L252.24 54.41L249.34 59.71Z" fill="#f01010" stroke="none" stroke-width="1"/>
<path d="M247.08 53.99L252.88 53.99L249.98 59.29Z" fill="#f01010" stroke="none" stroke-width="1"/>
<path d="M247.70 54.92L253.50 54.92L250.60 60.22Z" fill="#f01010" stroke="none" stroke-width="1"/>
<path d="M248.32 54.09L254.12 54.09L251.22 59.39Z" fill="#f01010" stroke="none" stroke-width="1"/>
<path d="M248.93 55.02L254.73 55.02L251.83 60.32Z" fill="#f01010" stroke="none" stroke-width="1"/>
<path d="M249.53 54.97L255.33 54.97L252.43 60.27Z" fill="#f01010" stroke="none" stroke-width="1"/>
<path d="M250.12 53.87L255.92 53.87L253.02 59.17Z" fill="#f01010" stroke="none" stroke-width="1"/>
<path d="M250.71 54.40L256.51 54.40L253.61 59.70Z" fill="#f01010" stroke="none" stroke-width="1"/>
<path d="M251.29 54.83L257.09 54.83L254.19 60.13Z" fill="#f01010" stroke="none" stroke-width="1"/>
<path d="M251.86 55.01L257.66 55.01L254.76 60.31Z" fill="#f01010" stroke="none" stroke-width="1"/>
<path d="M252.42 54.39L258.22 54.39L255.32 59.69Z" fill="#f01010" stroke="none" stroke-width="1"/>
<path d="M252.98 54.17L258.78 54.17L255.88 59.47Z" fill="#f01010" stroke="none" stroke-width="1"/>
<path d="M253.53 54.10L259.33 54.10L256.43 59.40Z" fill="#f01010" stroke="none" stroke-width="1"/>
<path d="M254.07 54.98L259.87 54.98L256.97 60.28Z" fill="#f01010" stroke="none" stroke-width="1"/>
<path d="M254.61 54.10L260.41 54.10L257.51 59.40Z" fill="#f01010" stroke="none" stroke-width="1"/>
<path d="M255.15 54.55L260.95 54.55L258.05 59.85Z" fill="#f01010" stroke="none" stroke-width="1"/>
<path d="M255.67 54.02L261.47 54.02L258.57 59.32Z" fill="#f01010" stroke="none" stroke-width="1"/>
<path d="M256.19 54.48L261.99 54.48L259.09 59.78Z" fill="#f01010" stroke="none" stroke-width="1"/>
<path d="M256.71 54.99L262.51 54.99L259.61 60.29Z" fill="#f01010" stroke="none" stroke-width="1"/>
<path d="M257.22 54.01L263.02 54.01L260.12 59.31Z" fill="#f01010" stroke="none" stroke-width="1"/>
<path d="M257.72 54.83L263.52 54.83L260.62 60.13Z" fill="#f01010" stroke="none" stroke-width="1"/>
<path d="M258.22 54.46L264.02 54.46L261.12 59.76Z" fill="#f01010" stroke="none" stroke-width="1"/>
<path d="M258.71 54.91L264.51 54.91L261.61 60.21Z" fill="#f01010" stroke="none" stroke-width="1"/>
<path d="M259.20 54.69L265.00 54.69L262.10 59.99Z" fill="#f01010" stroke="none" stroke-width="1"/>
<path d="M259.68 54.13L265.48 54.13L262.58 59.43Z" fill="#f01010" stroke="none" stroke-width="1"/>
<path d="M260.16 54.93L265.96 54.93L263.06 60.23Z" fill="#f01010" stroke="none" stroke-width="1"/>
<path d="M260.63 54.43L266.43 54.43L263.53 59.73Z" fill="#f01010" stroke="none" stroke-width="1"/>
<path d="M261.10 53.88L266.90 53.88L264.00 59.18Z" fill="#f01010" stroke="none" stroke-width="1"/>
<circle cx="49.50" cy="45.70" r="2.55" fill="#000" stroke="none" stroke-width="1"/>
<circle cx="81.79" cy="36.50" r="2.55" fill="#000" stroke="none" stroke-width="1"/>
<circle cx="100.67" cy="36.50" r="2.55" fill="#000" stroke="none" stroke-width="1"/>
<circle cx="114.07" cy="40.30" r="2.55" fill="#000" stroke="none" stroke-width="1"/>
<circle cx="124.46" cy="52.30" r="2.55" fill="#000" stroke="none" stroke-width="1"/>
<circle cx="132.96" cy="65.60" r="2.55" fill="#000" stroke="none" stroke-width="1"/>
<circle cx="140.14" cy="70.40" r="2.55" fill="#000" stroke="none" stroke-width="1"/>
<circle cx="146.36" cy="70.40" r="2.55" fill="#000" stroke="none" stroke-width="1"/>
<circle cx="151.84" cy="70.40" r="2.55" fill="#000" stroke="none" stroke-width="1"/>
<circle cx="156.75" cy="67.50" r="2.55" fill="#000" stroke="none" stroke-width="1"/>
<circle cx="160.90" cy="62.90" r="2.55" fill="#000" stroke="none" stroke-width="1"/>
<circle cx="165.30" cy="61.30" r="2.55" fill="#000" stroke="none" stroke-width="1"/>
<circle cx="169.00" cy="63.40" r="2.55" fill="#000" stroke="none" stroke-width="1"/>
<circle cx="172.40" cy="62.40" r="2.55" fill="#000" stroke="none" stroke-width="1"/>
<circle cx="175.60" cy="61.80" r="2.55" fill="#000" stroke="none" stroke-width="1"/>
<circle cx="178.90" cy="60.20" r="2.55" fill="#000" stroke="none" stroke-width="1"/>
<circle cx="182.70" cy="59.60" r="2.55" fill="#000" stroke="none" stroke-width="1"/>
<circle cx="184.40" cy="62.90" r="2.55" fill="#000" stroke="none" stroke-width="1"/>
<circle cx="186.50" cy="60.70" r="2.55" fill="#000" stroke="none" stroke-width="1"/>
<circle cx="189.30" cy="65.60" r="2.55" fill="#000" stroke="none" stroke-width="1"/>
<circle cx="192.00" cy="67.30" r="2.55" fill="#000" stroke="none" stroke-width="1"/>
<circle cx="193.60" cy="68.90" r="2.55" fill="#000" stroke="none" stroke-width="1"/>
<circle cx="195.80" cy="64.50" r="2.55" fill="#000" stroke="none" stroke-width="1"/>
<circle cx="198.50" cy="66.20" r="2.55" fill="#000" stroke="none" stroke-width="1"/>
<circle cx="200.70" cy="67.80" r="2.55" fill="#000" stroke="none" stroke-width="1"/>
<circle cx="204.00" cy="60.70" r="2.55" fill="#000" stroke="none" stroke-width="1"/>
<circle cx="207.80" cy="60.20" r="2.55" fill="#000" stroke="none" stroke-width="1"/>
<circle cx="203.30" cy="60.60" r="2.55" fill="#000" stroke="none" stroke-width="1"/>
<circle cx="206.10" cy="60.20" r="2.55" fill="#000" stroke="none" stroke-width="1"/>
<circle cx="209.00" cy="60.20" r="2.55" fill="#000" stroke="none" stroke-width="1"/>
<circle cx="212.20" cy="60.60" r="2.55" fill="#000" stroke="none" stroke-width="1"/>
<circle cx="214.70" cy="61.00" r="2.55" fill="#000" stroke="none" stroke-width="1"/>
<circle cx="216.70" cy="62.20" r="2.55" fill="#000" stroke="none" stroke-width="1"/>
<circle cx="217.10" cy="67.10" r="2.55" fill="#000" stroke="none" stroke-width="1"/>
<circle cx="218.40" cy="68.30" r="2.55" fill="#000" stroke="none" stroke-width="1"/>
<circle cx="220.00" cy="66.30" r="2.55" fill="#000" stroke="none" stroke-width="1"/>
<circle cx="221.60" cy="64.60" r="2.55" fill="#000" stroke="none" stroke-width="1"/>
<circle cx="222.00" cy="68.30" r="2.55" fill="#000" stroke="none" stroke-width="1"/>
<circle cx="223.70" cy="70.80" r="2.55" fill="#000" stroke="none" stroke-width="1"/>
<circle cx="224.50" cy="67.90" r="2.55" fill="#000" stroke="none" stroke-width="1"/>
<circle cx="226.10" cy="66.30" r="2.55" fill="#000" stroke="none" stroke-width="1"/>
<circle cx="227.70" cy="63.00" r="2.55" fill="#000" stroke="none" stroke-width="1"/>
<circle cx="229.00" cy="63.80" r="2.55" fill="#000" stroke="none" stroke-width="1"/>
<circle cx="229.80" cy="66.70" r="2.55" fill="#000" stroke="none" stroke-width="1"/>
<circle cx="231.00" cy="68.70" r="2.55" fill="#000" stroke="none" stroke-width="1"/>
<circle cx="232.20" cy="70.40" r="2.55" fill="#000" stroke="none" stroke-width="1"/>
<circle cx="232.60" cy="66.30" r="2.55" fill="#000" stroke="none" stroke-width="1"/>
<circle cx="233.00" cy="78.10" r="2.55" fill="#000" stroke="none" stroke-width="1"/>
<circle cx="234.30" cy="79.70" r="2.55" fill="#000" stroke="none" stroke-width="1"/>
<circle cx="230.50" cy="65.30" r="2.55" fill="#000" stroke="none" stroke-width="1"/>
<circle cx="231.50" cy="69.70" r="2.55" fill="#000" stroke="none" stroke-width="1"/>
<circle cx="233.40" cy="78.10" r="2.55" fill="#000" stroke="none" stroke-width="1"/>
<circle cx="234.90" cy="80.00" r="2.55" fill="#000" stroke="none" stroke-width="1"/>
<circle cx="235.40" cy="72.70" r="2.55" fill="#000" stroke="none" stroke-width="1"/>
<circle cx="236.80" cy="65.30" r="2.55" fill="#000" stroke="none" stroke-width="1"/>
<circle cx="238.80" cy="67.30" r="2.55" fill="#000" stroke="none" stroke-width="1"/>
<circle cx="240.30" cy="64.40" r="2.55" fill="#000" stroke="none" stroke-width="1"/>
<circle cx="241.30" cy="69.70" r="2.55" fill="#000" stroke="none" stroke-width="1"/>
<circle cx="242.20" cy="74.10" r="2.55" fill="#000" stroke="none" stroke-width="1"/>
<circle cx="243.70" cy="65.30" r="2.55" fill="#000" stroke="none" stroke-width="1"/>
<circle cx="244.70" cy="67.80" r="2.55" fill="#000" stroke="none" stroke-width="1"/>
<circle cx="245.70" cy="70.70" r="2.55" fill="#000" stroke="none" stroke-width="1"/>
<circle cx="246.10" cy="73.20" r="2.55" fill="#000" stroke="none" stroke-width="1"/>
<circle cx="247.10" cy="78.50" r="2.55" fill="#000" stroke="none" stroke-width="1"/>
<circle cx="248.60" cy="76.10" r="2.55" fill="#000" stroke="none" stroke-width="1"/>
<circle cx="249.60" cy="81.50" r="2.55" fill="#000" stroke="none" stroke-width="1"/>
<circle cx="250.10" cy="91.80" r="2.55" fill="#000" stroke="none" stroke-width="1"/>
<circle cx="251.00" cy="80.00" r="2.55" fill="#000" stroke="none" stroke-width="1"/>
<circle cx="252.00" cy="83.40" r="2.55" fill="#000" stroke="none" stroke-width="1"/>
<circle cx="253.00" cy="86.40" r="2.55" fill="#000" stroke="none" stroke-width="1"/>
<circle cx="254.00" cy="84.90" r="2.55" fill="#000" stroke="none" stroke-width="1"/>
<circle cx="255.00" cy="87.80" r="2.55" fill="#000" stroke="none" stroke-width="1"/>
<circle cx="255.60" cy="94.70" r="2.55" fill="#000" stroke="none" stroke-width="1"/>
<circle cx="255.90" cy="91.80" r="2.55" fill="#000" stroke="none" stroke-width="1"/>
<circle cx="256.90" cy="83.00" r="2.55" fill="#000" stroke="none" stroke-width="1"/>
<circle cx="257.90" cy="87.40" r="2.55" fill="#000" stroke="none" stroke-width="1"/>
<circle cx="258.40" cy="79.00" r="2.55" fill="#000" stroke="none" stroke-width="1"/>
<circle cx="259.40" cy="77.60" r="2.55" fill="#000" stroke="none" stroke-width="1"/>
<circle cx="260.30" cy="83.40" r="2.55" fill="#000" stroke="none" stroke-width="1"/>
<circle cx="260.80" cy="89.30" r="2.55" fill="#000" stroke="none" stroke-width="1"/>
<circle cx="261.80" cy="77.10" r="2.55" fill="#000" stroke="none" stroke-width="1"/>
<circle cx="262.30" cy="81.50" r="2.55" fill="#000" stroke="none" stroke-width="1"/>
<circle cx="262.80" cy="85.90" r="2.55" fill="#000" stroke="none" stroke-width="1"/>
<circle cx="263.30" cy="78.50" r="2.55" fill="#000" stroke="none" stroke-width="1"/>
<rect x="49.50" y="14.00" width="214.50" height="172.50" fill="none" stroke="#111" stroke-width="1.2" />
<line x1="49.50" y1="181.11" x2="51.50" y2="181.11" stroke="#111" stroke-width="1"/>
<line x1="49.50" y1="176.70" x2="51.50" y2="176.70" stroke="#111" stroke-width="1"/>
<line x1="49.50" y1="173.09" x2="51.50" y2="173.09" stroke="#111" stroke-width="1"/>
<line x1="49.50" y1="170.05" x2="51.50" y2="170.05" stroke="#111" stroke-width="1"/>
<line x1="49.50" y1="167.41" x2="51.50" y2="167.41" stroke="#111" stroke-width="1"/>
<line x1="49.50" y1="165.08" x2="51.50" y2="165.08" stroke="#111" stroke-width="1"/>
<line x1="49.50" y1="163.00" x2="53.50" y2="163.00" stroke="#111" stroke-width="1"/>
<line x1="49.50" y1="149.30" x2="51.50" y2="149.30" stroke="#111" stroke-width="1"/>
<line x1="49.50" y1="141.29" x2="51.50" y2="141.29" stroke="#111" stroke-width="1"/>
<line x1="49.50" y1="135.61" x2="51.50" y2="135.61" stroke="#111" stroke-width="1"/>
<line x1="49.50" y1="131.20" x2="51.50" y2="131.20" stroke="#111" stroke-width="1"/>
<line x1="49.50" y1="127.59" x2="51.50" y2="127.59" stroke="#111" stroke-width="1"/>
<line x1="49.50" y1="124.55" x2="51.50" y2="124.55" stroke="#111" stroke-width="1"/>
<line x1="49.50" y1="121.91" x2="51.50" y2="121.91" stroke="#111" stroke-width="1"/>
<line x1="49.50" y1="119.58" x2="51.50" y2="119.58" stroke="#111" stroke-width="1"/>
<line x1="49.50" y1="117.50" x2="53.50" y2="117.50" stroke="#111" stroke-width="1"/>
<line x1="49.50" y1="103.80" x2="51.50" y2="103.80" stroke="#111" stroke-width="1"/>
<line x1="49.50" y1="95.79" x2="51.50" y2="95.79" stroke="#111" stroke-width="1"/>
<line x1="49.50" y1="90.11" x2="51.50" y2="90.11" stroke="#111" stroke-width="1"/>
<line x1="49.50" y1="85.70" x2="51.50" y2="85.70" stroke="#111" stroke-width="1"/>
<line x1="49.50" y1="82.09" x2="51.50" y2="82.09" stroke="#111" stroke-width="1"/>
<line x1="49.50" y1="79.05" x2="51.50" y2="79.05" stroke="#111" stroke-width="1"/>
<line x1="49.50" y1="76.41" x2="51.50" y2="76.41" stroke="#111" stroke-width="1"/>
<line x1="49.50" y1="74.08" x2="51.50" y2="74.08" stroke="#111" stroke-width="1"/>
<line x1="49.50" y1="72.00" x2="53.50" y2="72.00" stroke="#111" stroke-width="1"/>
<line x1="49.50" y1="58.30" x2="51.50" y2="58.30" stroke="#111" stroke-width="1"/>
<line x1="49.50" y1="50.29" x2="51.50" y2="50.29" stroke="#111" stroke-width="1"/>
<line x1="49.50" y1="44.61" x2="51.50" y2="44.61" stroke="#111" stroke-width="1"/>
<line x1="49.50" y1="40.20" x2="51.50" y2="40.20" stroke="#111" stroke-width="1"/>
<line x1="49.50" y1="36.59" x2="51.50" y2="36.59" stroke="#111" stroke-width="1"/>
<line x1="49.50" y1="33.55" x2="51.50" y2="33.55" stroke="#111" stroke-width="1"/>
<line x1="49.50" y1="30.91" x2="51.50" y2="30.91" stroke="#111" stroke-width="1"/>
<line x1="49.50" y1="28.58" x2="51.50" y2="28.58" stroke="#111" stroke-width="1"/>
<line x1="49.50" y1="26.50" x2="53.50" y2="26.50" stroke="#111" stroke-width="1"/>
<line x1="49.50" y1="186.50" x2="49.50" y2="182.50" stroke="#111" stroke-width="1"/>
<line x1="81.79" y1="186.50" x2="81.79" y2="184.50" stroke="#111" stroke-width="1"/>
<line x1="100.67" y1="186.50" x2="100.67" y2="184.50" stroke="#111" stroke-width="1"/>
<line x1="114.07" y1="186.50" x2="114.07" y2="184.50" stroke="#111" stroke-width="1"/>
<line x1="124.46" y1="186.50" x2="124.46" y2="184.50" stroke="#111" stroke-width="1"/>
<line x1="132.96" y1="186.50" x2="132.96" y2="184.50" stroke="#111" stroke-width="1"/>
<line x1="140.14" y1="186.50" x2="140.14" y2="184.50" stroke="#111" stroke-width="1"/>
<line x1="146.36" y1="186.50" x2="146.36" y2="184.50" stroke="#111" stroke-width="1"/>
<line x1="151.84" y1="186.50" x2="151.84" y2="184.50" stroke="#111" stroke-width="1"/>
<line x1="156.75" y1="186.50" x2="156.75" y2="182.50" stroke="#111" stroke-width="1"/>
<line x1="189.04" y1="186.50" x2="189.04" y2="184.50" stroke="#111" stroke-width="1"/>
<line x1="207.92" y1="186.50" x2="207.92" y2="184.50" stroke="#111" stroke-width="1"/>
<line x1="221.32" y1="186.50" x2="221.32" y2="184.50" stroke="#111" stroke-width="1"/>
<line x1="231.71" y1="186.50" x2="231.71" y2="184.50" stroke="#111" stroke-width="1"/>
<line x1="240.21" y1="186.50" x2="240.21" y2="184.50" stroke="#111" stroke-width="1"/>
<line x1="247.39" y1="186.50" x2="247.39" y2="184.50" stroke="#111" stroke-width="1"/>
<line x1="253.61" y1="186.50" x2="253.61" y2="184.50" stroke="#111" stroke-width="1"/>
<line x1="259.09" y1="186.50" x2="259.09" y2="184.50" stroke="#111" stroke-width="1"/>
<line x1="264.00" y1="186.50" x2="264.00" y2="182.50" stroke="#111" stroke-width="1"/>
<text x="49.50" y="201.30" font-size="13.3" text-anchor="middle" fill="#1e1e1e" color="#1e1e1e" >1</text>
<text x="156.75" y="201.30" font-size="13.3" text-anchor="middle" fill="#1e1e1e" color="#1e1e1e" >10</text>
<text x="264.00" y="201.30" font-size="13.3" text-anchor="middle" fill="#1e1e1e" color="#1e1e1e" >100</text>
<text x="45.8" y="31.30" font-size="13.3" text-anchor="end" fill="#1e1e1e" color="#1e1e1e">10<tspan font-size="9.3" dy="-5.2">10</tspan></text>
<text x="45.8" y="76.80" font-size="13.3" text-anchor="end" fill="#1e1e1e" color="#1e1e1e">10<tspan font-size="9.3" dy="-5.2">9</tspan></text>
<text x="45.8" y="122.30" font-size="13.3" text-anchor="end" fill="#1e1e1e" color="#1e1e1e">10<tspan font-size="9.3" dy="-5.2">8</tspan></text>
<text x="45.8" y="167.80" font-size="13.3" text-anchor="end" fill="#1e1e1e" color="#1e1e1e">10<tspan font-size="9.3" dy="-5.2">7</tspan></text>
<text x="4.50" y="20.80" font-size="14" text-anchor="start" fill="#1e1e1e" color="#1e1e1e" >(a)</text>
<text transform="translate(18.9,110.2) rotate(-90)" font-size="14.1" text-anchor="middle" fill="#1e1e1e" color="#1e1e1e">Resistance(Ω)</text>
<text x="156.50" y="220.70" font-size="14.4" text-anchor="middle" fill="#1e1e1e" color="#1e1e1e" >Number of cycles</text>
<rect x="132.00" y="22.00" width="130.00" height="24.10" fill="#000" stroke="none" stroke-width="1" />
<rect x="129.50" y="19.50" width="130.00" height="24.10" fill="#fff" stroke="#555" stroke-width="1" />
<circle cx="140.50" cy="26.50" r="1.9" fill="none" stroke="#111" stroke-width="1.1"/>
<circle cx="140.50" cy="37.70" r="2.4" fill="#000" stroke="none" stroke-width="1"/>
<path d="M197.90 24.20L203.30 24.20L200.60 29.00Z" fill="#fff" stroke="#b8303c" stroke-width="1.2"/>
<path d="M199.60 34.85L205.40 34.85L202.50 40.15Z" fill="#f01010" stroke="none" stroke-width="1"/>
<text x="153.30" y="29.40" font-size="9.1" text-anchor="start" fill="#222" color="#222" >S0 LRS</text>
<text x="153.30" y="40.40" font-size="9.1" text-anchor="start" fill="#222" color="#222" >S0 HRS</text>
<text x="213.30" y="29.40" font-size="9.1" text-anchor="start" fill="#222" color="#222" >S120 LRS</text>
<text x="215.00" y="40.40" font-size="9.1" text-anchor="start" fill="#222" color="#222" >S120 HRS</text>
<path d="M361.0 51.2 L368.4 51.2 L363.2 159.5 L359.6 164.0 L355.9 159.5 Z" fill="#d8303a"/>
<path d="M357.10 158.60L361.50 158.60L359.30 162.40Z" fill="none" stroke="#e05058" stroke-width="0.8"/>
<path d="M357.49 156.65L361.89 156.65L359.69 160.45Z" fill="none" stroke="#e05058" stroke-width="0.8"/>
<path d="M357.55 154.69L361.95 154.69L359.75 158.49Z" fill="none" stroke="#e05058" stroke-width="0.8"/>
<path d="M357.55 152.74L361.95 152.74L359.75 156.54Z" fill="none" stroke="#e05058" stroke-width="0.8"/>
<path d="M357.55 150.78L361.95 150.78L359.75 154.58Z" fill="none" stroke="#e05058" stroke-width="0.8"/>
<path d="M357.76 148.83L362.16 148.83L359.96 152.63Z" fill="none" stroke="#e05058" stroke-width="0.8"/>
<path d="M357.84 146.87L362.24 146.87L360.04 150.67Z" fill="none" stroke="#e05058" stroke-width="0.8"/>
<path d="M358.24 144.92L362.64 144.92L360.44 148.72Z" fill="none" stroke="#e05058" stroke-width="0.8"/>
<path d="M357.83 142.96L362.23 142.96L360.03 146.76Z" fill="none" stroke="#e05058" stroke-width="0.8"/>
<path d="M358.37 141.01L362.77 141.01L360.57 144.81Z" fill="none" stroke="#e05058" stroke-width="0.8"/>
<path d="M358.51 139.05L362.91 139.05L360.71 142.85Z" fill="none" stroke="#e05058" stroke-width="0.8"/>
<path d="M358.17 137.10L362.57 137.10L360.37 140.90Z" fill="none" stroke="#e05058" stroke-width="0.8"/>
<path d="M358.75 135.15L363.15 135.15L360.95 138.95Z" fill="none" stroke="#e05058" stroke-width="0.8"/>
<path d="M358.71 133.19L363.11 133.19L360.91 136.99Z" fill="none" stroke="#e05058" stroke-width="0.8"/>
<path d="M358.91 131.24L363.31 131.24L361.11 135.04Z" fill="none" stroke="#e05058" stroke-width="0.8"/>
<path d="M358.64 129.28L363.04 129.28L360.84 133.08Z" fill="none" stroke="#e05058" stroke-width="0.8"/>
<path d="M358.78 127.33L363.18 127.33L360.98 131.13Z" fill="none" stroke="#e05058" stroke-width="0.8"/>
<path d="M358.88 125.37L363.28 125.37L361.08 129.17Z" fill="none" stroke="#e05058" stroke-width="0.8"/>
<path d="M359.34 123.42L363.74 123.42L361.54 127.22Z" fill="none" stroke="#e05058" stroke-width="0.8"/>
<path d="M359.18 121.46L363.58 121.46L361.38 125.26Z" fill="none" stroke="#e05058" stroke-width="0.8"/>
<path d="M359.13 119.51L363.53 119.51L361.33 123.31Z" fill="none" stroke="#e05058" stroke-width="0.8"/>
<path d="M359.27 117.55L363.67 117.55L361.47 121.35Z" fill="none" stroke="#e05058" stroke-width="0.8"/>
<path d="M359.27 115.60L363.67 115.60L361.47 119.40Z" fill="none" stroke="#e05058" stroke-width="0.8"/>
<path d="M359.22 113.65L363.62 113.65L361.42 117.45Z" fill="none" stroke="#e05058" stroke-width="0.8"/>
<path d="M359.34 111.69L363.74 111.69L361.54 115.49Z" fill="none" stroke="#e05058" stroke-width="0.8"/>
<path d="M359.87 109.74L364.27 109.74L362.07 113.54Z" fill="none" stroke="#e05058" stroke-width="0.8"/>
<path d="M359.64 107.78L364.04 107.78L361.84 111.58Z" fill="none" stroke="#e05058" stroke-width="0.8"/>
<path d="M360.12 105.83L364.52 105.83L362.32 109.63Z" fill="none" stroke="#e05058" stroke-width="0.8"/>
<path d="M359.80 103.87L364.20 103.87L362.00 107.67Z" fill="none" stroke="#e05058" stroke-width="0.8"/>
<path d="M359.90 101.92L364.30 101.92L362.10 105.72Z" fill="none" stroke="#e05058" stroke-width="0.8"/>
<path d="M360.13 99.96L364.53 99.96L362.33 103.76Z" fill="none" stroke="#e05058" stroke-width="0.8"/>
<path d="M360.03 98.01L364.43 98.01L362.23 101.81Z" fill="none" stroke="#e05058" stroke-width="0.8"/>
<path d="M360.23 96.05L364.63 96.05L362.43 99.85Z" fill="none" stroke="#e05058" stroke-width="0.8"/>
<path d="M360.67 94.10L365.07 94.10L362.87 97.90Z" fill="none" stroke="#e05058" stroke-width="0.8"/>
<path d="M360.72 92.15L365.12 92.15L362.92 95.95Z" fill="none" stroke="#e05058" stroke-width="0.8"/>
<path d="M360.77 90.19L365.17 90.19L362.97 93.99Z" fill="none" stroke="#e05058" stroke-width="0.8"/>
<path d="M360.75 88.24L365.15 88.24L362.95 92.04Z" fill="none" stroke="#e05058" stroke-width="0.8"/>
<path d="M361.01 86.28L365.41 86.28L363.21 90.08Z" fill="none" stroke="#e05058" stroke-width="0.8"/>
<path d="M361.12 84.33L365.52 84.33L363.32 88.13Z" fill="none" stroke="#e05058" stroke-width="0.8"/>
<path d="M360.97 82.37L365.37 82.37L363.17 86.17Z" fill="none" stroke="#e05058" stroke-width="0.8"/>
<path d="M361.17 80.42L365.57 80.42L363.37 84.22Z" fill="none" stroke="#e05058" stroke-width="0.8"/>
<path d="M360.86 78.46L365.26 78.46L363.06 82.26Z" fill="none" stroke="#e05058" stroke-width="0.8"/>
<path d="M361.36 76.51L365.76 76.51L363.56 80.31Z" fill="none" stroke="#e05058" stroke-width="0.8"/>
<path d="M361.28 74.55L365.68 74.55L363.48 78.35Z" fill="none" stroke="#e05058" stroke-width="0.8"/>
<path d="M361.55 72.60L365.95 72.60L363.75 76.40Z" fill="none" stroke="#e05058" stroke-width="0.8"/>
<path d="M361.58 70.65L365.98 70.65L363.78 74.45Z" fill="none" stroke="#e05058" stroke-width="0.8"/>
<path d="M361.45 68.69L365.85 68.69L363.65 72.49Z" fill="none" stroke="#e05058" stroke-width="0.8"/>
<path d="M361.40 66.74L365.80 66.74L363.60 70.54Z" fill="none" stroke="#e05058" stroke-width="0.8"/>
<path d="M362.02 64.78L366.42 64.78L364.22 68.58Z" fill="none" stroke="#e05058" stroke-width="0.8"/>
<path d="M361.63 62.83L366.03 62.83L363.83 66.63Z" fill="none" stroke="#e05058" stroke-width="0.8"/>
<path d="M361.93 60.87L366.33 60.87L364.13 64.67Z" fill="none" stroke="#e05058" stroke-width="0.8"/>
<path d="M361.94 58.92L366.34 58.92L364.14 62.72Z" fill="none" stroke="#e05058" stroke-width="0.8"/>
<path d="M362.01 56.96L366.41 56.96L364.21 60.76Z" fill="none" stroke="#e05058" stroke-width="0.8"/>
<path d="M362.36 55.01L366.76 55.01L364.56 58.81Z" fill="none" stroke="#e05058" stroke-width="0.8"/>
<path d="M362.59 53.05L366.99 53.05L364.79 56.85Z" fill="none" stroke="#e05058" stroke-width="0.8"/>
<path d="M362.26 51.10L366.66 51.10L364.46 54.90Z" fill="none" stroke="#e05058" stroke-width="0.8"/>
<path d="M362.30 51.00L366.90 51.00L364.60 55.00Z" fill="#fff" stroke="#d03040" stroke-width="1.2"/>
<path d="M357.30 158.30L361.90 158.30L359.60 162.30Z" fill="#f0a0a0" stroke="#d03040" stroke-width="1.2"/>
<circle cx="385.70" cy="160.20" r="2.0" fill="#fff" stroke="#555" stroke-width="1.0"/>
<circle cx="392.92" cy="159.60" r="2.3" fill="#fff" stroke="#454545" stroke-width="1.0"/>
<circle cx="393.38" cy="158.72" r="2.3" fill="#fff" stroke="#454545" stroke-width="1.0"/>
<circle cx="394.71" cy="157.84" r="2.3" fill="#fff" stroke="#454545" stroke-width="1.0"/>
<circle cx="395.35" cy="156.88" r="2.3" fill="#fff" stroke="#454545" stroke-width="1.0"/>
<circle cx="395.86" cy="155.87" r="2.3" fill="#fff" stroke="#454545" stroke-width="1.0"/>
<circle cx="396.67" cy="154.86" r="2.3" fill="#fff" stroke="#454545" stroke-width="1.0"/>
<circle cx="397.56" cy="153.84" r="2.3" fill="#fff" stroke="#454545" stroke-width="1.0"/>
<circle cx="399.18" cy="152.71" r="2.3" fill="#fff" stroke="#454545" stroke-width="1.0"/>
<circle cx="399.24" cy="151.58" r="2.3" fill="#fff" stroke="#454545" stroke-width="1.0"/>
<circle cx="399.49" cy="150.44" r="2.3" fill="#fff" stroke="#454545" stroke-width="1.0"/>
<circle cx="401.09" cy="149.30" r="2.3" fill="#fff" stroke="#454545" stroke-width="1.0"/>
<circle cx="401.86" cy="148.16" r="2.3" fill="#fff" stroke="#454545" stroke-width="1.0"/>
<circle cx="401.73" cy="147.03" r="2.3" fill="#fff" stroke="#454545" stroke-width="1.0"/>
<circle cx="401.93" cy="145.89" r="2.3" fill="#fff" stroke="#454545" stroke-width="1.0"/>
<circle cx="402.51" cy="144.69" r="2.3" fill="#fff" stroke="#454545" stroke-width="1.0"/>
<circle cx="402.83" cy="143.47" r="2.3" fill="#fff" stroke="#454545" stroke-width="1.0"/>
<circle cx="403.64" cy="142.25" r="2.3" fill="#fff" stroke="#454545" stroke-width="1.0"/>
<circle cx="403.75" cy="141.03" r="2.3" fill="#fff" stroke="#454545" stroke-width="1.0"/>
<circle cx="404.41" cy="139.81" r="2.3" fill="#fff" stroke="#454545" stroke-width="1.0"/>
<circle cx="404.90" cy="138.59" r="2.3" fill="#fff" stroke="#454545" stroke-width="1.0"/>
<circle cx="405.79" cy="137.37" r="2.3" fill="#fff" stroke="#454545" stroke-width="1.0"/>
<circle cx="406.69" cy="136.15" r="2.3" fill="#fff" stroke="#454545" stroke-width="1.0"/>
<circle cx="406.91" cy="134.91" r="2.3" fill="#fff" stroke="#454545" stroke-width="1.0"/>
<circle cx="406.85" cy="133.68" r="2.3" fill="#fff" stroke="#454545" stroke-width="1.0"/>
<circle cx="407.27" cy="132.44" r="2.3" fill="#fff" stroke="#454545" stroke-width="1.0"/>
<circle cx="407.83" cy="131.20" r="2.3" fill="#fff" stroke="#454545" stroke-width="1.0"/>
<circle cx="408.04" cy="129.97" r="2.3" fill="#fff" stroke="#454545" stroke-width="1.0"/>
<circle cx="408.40" cy="128.73" r="2.3" fill="#fff" stroke="#454545" stroke-width="1.0"/>
<circle cx="408.42" cy="127.49" r="2.3" fill="#fff" stroke="#454545" stroke-width="1.0"/>
<circle cx="409.14" cy="126.26" r="2.3" fill="#fff" stroke="#454545" stroke-width="1.0"/>
<circle cx="410.41" cy="124.99" r="2.3" fill="#fff" stroke="#454545" stroke-width="1.0"/>
<circle cx="409.47" cy="123.71" r="2.3" fill="#fff" stroke="#454545" stroke-width="1.0"/>
<circle cx="410.24" cy="122.43" r="2.3" fill="#fff" stroke="#454545" stroke-width="1.0"/>
<circle cx="410.65" cy="121.15" r="2.3" fill="#fff" stroke="#454545" stroke-width="1.0"/>
<circle cx="411.22" cy="119.87" r="2.3" fill="#fff" stroke="#454545" stroke-width="1.0"/>
<circle cx="410.56" cy="118.58" r="2.3" fill="#fff" stroke="#454545" stroke-width="1.0"/>
<circle cx="410.87" cy="117.30" r="2.3" fill="#fff" stroke="#454545" stroke-width="1.0"/>
<circle cx="411.08" cy="116.02" r="2.3" fill="#fff" stroke="#454545" stroke-width="1.0"/>
<circle cx="411.53" cy="114.74" r="2.3" fill="#fff" stroke="#454545" stroke-width="1.0"/>
<circle cx="411.84" cy="113.46" r="2.3" fill="#fff" stroke="#454545" stroke-width="1.0"/>
<circle cx="412.74" cy="112.17" r="2.3" fill="#fff" stroke="#454545" stroke-width="1.0"/>
<circle cx="412.75" cy="110.88" r="2.3" fill="#fff" stroke="#454545" stroke-width="1.0"/>
<circle cx="412.94" cy="109.58" r="2.3" fill="#fff" stroke="#454545" stroke-width="1.0"/>
<circle cx="411.91" cy="108.29" r="2.3" fill="#fff" stroke="#454545" stroke-width="1.0"/>
<circle cx="412.08" cy="106.99" r="2.3" fill="#fff" stroke="#454545" stroke-width="1.0"/>
<circle cx="413.19" cy="105.70" r="2.3" fill="#fff" stroke="#454545" stroke-width="1.0"/>
<circle cx="413.61" cy="104.41" r="2.3" fill="#fff" stroke="#454545" stroke-width="1.0"/>
<circle cx="413.18" cy="103.11" r="2.3" fill="#fff" stroke="#454545" stroke-width="1.0"/>
<circle cx="413.50" cy="101.82" r="2.3" fill="#fff" stroke="#454545" stroke-width="1.0"/>
<circle cx="412.84" cy="100.53" r="2.3" fill="#fff" stroke="#454545" stroke-width="1.0"/>
<circle cx="413.54" cy="99.23" r="2.3" fill="#fff" stroke="#454545" stroke-width="1.0"/>
<circle cx="414.44" cy="97.94" r="2.3" fill="#fff" stroke="#454545" stroke-width="1.0"/>
<circle cx="414.45" cy="96.64" r="2.3" fill="#fff" stroke="#454545" stroke-width="1.0"/>
<circle cx="414.64" cy="95.35" r="2.3" fill="#fff" stroke="#454545" stroke-width="1.0"/>
<circle cx="414.96" cy="94.05" r="2.3" fill="#fff" stroke="#454545" stroke-width="1.0"/>
<circle cx="414.09" cy="92.76" r="2.3" fill="#fff" stroke="#454545" stroke-width="1.0"/>
<circle cx="414.05" cy="91.46" r="2.3" fill="#fff" stroke="#454545" stroke-width="1.0"/>
<circle cx="414.26" cy="90.17" r="2.3" fill="#fff" stroke="#454545" stroke-width="1.0"/>
<circle cx="414.93" cy="88.87" r="2.3" fill="#fff" stroke="#454545" stroke-width="1.0"/>
<circle cx="415.31" cy="87.58" r="2.3" fill="#fff" stroke="#454545" stroke-width="1.0"/>
<circle cx="415.84" cy="86.29" r="2.3" fill="#fff" stroke="#454545" stroke-width="1.0"/>
<circle cx="415.70" cy="84.99" r="2.3" fill="#fff" stroke="#454545" stroke-width="1.0"/>
<circle cx="415.77" cy="83.70" r="2.3" fill="#fff" stroke="#454545" stroke-width="1.0"/>
<circle cx="416.10" cy="82.41" r="2.3" fill="#fff" stroke="#454545" stroke-width="1.0"/>
<circle cx="415.84" cy="81.11" r="2.3" fill="#fff" stroke="#454545" stroke-width="1.0"/>
<circle cx="416.14" cy="79.82" r="2.3" fill="#fff" stroke="#454545" stroke-width="1.0"/>
<circle cx="415.59" cy="78.53" r="2.3" fill="#fff" stroke="#454545" stroke-width="1.0"/>
<circle cx="416.82" cy="77.24" r="2.3" fill="#fff" stroke="#454545" stroke-width="1.0"/>
<circle cx="416.27" cy="75.95" r="2.3" fill="#fff" stroke="#454545" stroke-width="1.0"/>
<circle cx="417.44" cy="74.67" r="2.3" fill="#fff" stroke="#454545" stroke-width="1.0"/>
<circle cx="417.27" cy="73.38" r="2.3" fill="#fff" stroke="#454545" stroke-width="1.0"/>
<circle cx="417.01" cy="72.10" r="2.3" fill="#fff" stroke="#454545" stroke-width="1.0"/>
<circle cx="416.98" cy="70.81" r="2.3" fill="#fff" stroke="#454545" stroke-width="1.0"/>
<circle cx="417.37" cy="69.52" r="2.3" fill="#fff" stroke="#454545" stroke-width="1.0"/>
<circle cx="418.12" cy="68.24" r="2.3" fill="#fff" stroke="#454545" stroke-width="1.0"/>
<circle cx="418.42" cy="66.95" r="2.3" fill="#fff" stroke="#454545" stroke-width="1.0"/>
<circle cx="417.83" cy="65.67" r="2.3" fill="#fff" stroke="#454545" stroke-width="1.0"/>
<circle cx="418.04" cy="64.40" r="2.3" fill="#fff" stroke="#454545" stroke-width="1.0"/>
<circle cx="418.95" cy="63.12" r="2.3" fill="#fff" stroke="#454545" stroke-width="1.0"/>
<circle cx="419.31" cy="61.85" r="2.3" fill="#fff" stroke="#454545" stroke-width="1.0"/>
<circle cx="419.31" cy="60.57" r="2.3" fill="#fff" stroke="#454545" stroke-width="1.0"/>
<circle cx="419.45" cy="59.35" r="2.3" fill="#fff" stroke="#454545" stroke-width="1.0"/>
<circle cx="420.88" cy="58.40" r="2.3" fill="#fff" stroke="#454545" stroke-width="1.0"/>
<circle cx="420.94" cy="57.45" r="2.3" fill="#fff" stroke="#454545" stroke-width="1.0"/>
<circle cx="422.25" cy="56.50" r="2.3" fill="#fff" stroke="#454545" stroke-width="1.0"/>
<circle cx="423.45" cy="55.65" r="2.3" fill="#fff" stroke="#454545" stroke-width="1.0"/>
<circle cx="425.22" cy="54.92" r="2.3" fill="#fff" stroke="#454545" stroke-width="1.0"/>
<circle cx="425.85" cy="54.18" r="2.3" fill="#fff" stroke="#454545" stroke-width="1.0"/>
<circle cx="427.26" cy="53.44" r="2.3" fill="#fff" stroke="#454545" stroke-width="1.0"/>
<circle cx="427.77" cy="52.70" r="2.3" fill="#fff" stroke="#454545" stroke-width="1.0"/>
<circle cx="449.68" cy="159.35" r="2.7" fill="#000" stroke="none" stroke-width="1"/>
<circle cx="451.61" cy="158.74" r="2.7" fill="#000" stroke="none" stroke-width="1"/>
<circle cx="451.33" cy="156.99" r="2.7" fill="#000" stroke="none" stroke-width="1"/>
<circle cx="452.41" cy="156.58" r="2.7" fill="#000" stroke="none" stroke-width="1"/>
<circle cx="453.05" cy="155.09" r="2.7" fill="#000" stroke="none" stroke-width="1"/>
<circle cx="454.22" cy="154.70" r="2.7" fill="#000" stroke="none" stroke-width="1"/>
<circle cx="454.28" cy="152.74" r="2.7" fill="#000" stroke="none" stroke-width="1"/>
<circle cx="455.18" cy="152.03" r="2.7" fill="#000" stroke="none" stroke-width="1"/>
<circle cx="456.32" cy="150.64" r="2.7" fill="#000" stroke="none" stroke-width="1"/>
<circle cx="457.09" cy="150.00" r="2.7" fill="#000" stroke="none" stroke-width="1"/>
<circle cx="457.21" cy="148.29" r="2.7" fill="#000" stroke="none" stroke-width="1"/>
<circle cx="458.55" cy="147.22" r="2.7" fill="#000" stroke="none" stroke-width="1"/>
<circle cx="458.89" cy="145.96" r="2.7" fill="#000" stroke="none" stroke-width="1"/>
<circle cx="458.53" cy="145.32" r="2.7" fill="#000" stroke="none" stroke-width="1"/>
<circle cx="459.23" cy="144.33" r="2.7" fill="#000" stroke="none" stroke-width="1"/>
<circle cx="460.14" cy="142.39" r="2.7" fill="#000" stroke="none" stroke-width="1"/>
<circle cx="460.37" cy="141.49" r="2.7" fill="#000" stroke="none" stroke-width="1"/>
<circle cx="461.80" cy="140.93" r="2.7" fill="#000" stroke="none" stroke-width="1"/>
<circle cx="461.70" cy="139.28" r="2.7" fill="#000" stroke="none" stroke-width="1"/>
<circle cx="462.53" cy="138.76" r="2.7" fill="#000" stroke="none" stroke-width="1"/>
<circle cx="463.14" cy="136.74" r="2.7" fill="#000" stroke="none" stroke-width="1"/>
<circle cx="463.74" cy="135.99" r="2.7" fill="#000" stroke="none" stroke-width="1"/>
<circle cx="465.81" cy="135.38" r="2.7" fill="#000" stroke="none" stroke-width="1"/>
<circle cx="466.22" cy="134.38" r="2.7" fill="#000" stroke="none" stroke-width="1"/>
<circle cx="467.19" cy="132.56" r="2.7" fill="#000" stroke="none" stroke-width="1"/>
<circle cx="466.65" cy="132.03" r="2.7" fill="#000" stroke="none" stroke-width="1"/>
<circle cx="468.19" cy="129.98" r="2.7" fill="#000" stroke="none" stroke-width="1"/>
<circle cx="468.71" cy="129.18" r="2.7" fill="#000" stroke="none" stroke-width="1"/>
<circle cx="468.89" cy="127.99" r="2.7" fill="#000" stroke="none" stroke-width="1"/>
<circle cx="469.21" cy="126.52" r="2.7" fill="#000" stroke="none" stroke-width="1"/>
<circle cx="470.04" cy="125.72" r="2.7" fill="#000" stroke="none" stroke-width="1"/>
<circle cx="471.83" cy="124.39" r="2.7" fill="#000" stroke="none" stroke-width="1"/>
<circle cx="472.57" cy="123.38" r="2.7" fill="#000" stroke="none" stroke-width="1"/>
<circle cx="472.34" cy="122.91" r="2.7" fill="#000" stroke="none" stroke-width="1"/>
<circle cx="473.82" cy="121.43" r="2.7" fill="#000" stroke="none" stroke-width="1"/>
<circle cx="473.32" cy="120.38" r="2.7" fill="#000" stroke="none" stroke-width="1"/>
<circle cx="474.57" cy="119.74" r="2.7" fill="#000" stroke="none" stroke-width="1"/>
<circle cx="475.02" cy="118.09" r="2.7" fill="#000" stroke="none" stroke-width="1"/>
<circle cx="477.10" cy="116.89" r="2.7" fill="#000" stroke="none" stroke-width="1"/>
<circle cx="477.42" cy="116.95" r="2.7" fill="#000" stroke="none" stroke-width="1"/>
<circle cx="479.09" cy="115.46" r="2.7" fill="#000" stroke="none" stroke-width="1"/>
<circle cx="478.94" cy="114.69" r="2.7" fill="#000" stroke="none" stroke-width="1"/>
<circle cx="480.95" cy="113.71" r="2.7" fill="#000" stroke="none" stroke-width="1"/>
<circle cx="481.26" cy="113.17" r="2.7" fill="#000" stroke="none" stroke-width="1"/>
<circle cx="481.19" cy="111.37" r="2.7" fill="#000" stroke="none" stroke-width="1"/>
<circle cx="482.77" cy="110.54" r="2.7" fill="#000" stroke="none" stroke-width="1"/>
<circle cx="481.96" cy="109.37" r="2.7" fill="#000" stroke="none" stroke-width="1"/>
<circle cx="482.23" cy="107.63" r="2.7" fill="#000" stroke="none" stroke-width="1"/>
<circle cx="481.92" cy="106.81" r="2.7" fill="#000" stroke="none" stroke-width="1"/>
<circle cx="483.57" cy="105.39" r="2.7" fill="#000" stroke="none" stroke-width="1"/>
<circle cx="483.81" cy="103.48" r="2.7" fill="#000" stroke="none" stroke-width="1"/>
<circle cx="482.86" cy="102.63" r="2.7" fill="#000" stroke="none" stroke-width="1"/>
<circle cx="484.21" cy="101.81" r="2.7" fill="#000" stroke="none" stroke-width="1"/>
<circle cx="483.45" cy="99.80" r="2.7" fill="#000" stroke="none" stroke-width="1"/>
<circle cx="483.67" cy="98.74" r="2.7" fill="#000" stroke="none" stroke-width="1"/>
<circle cx="484.62" cy="97.12" r="2.7" fill="#000" stroke="none" stroke-width="1"/>
<circle cx="484.57" cy="96.37" r="2.7" fill="#000" stroke="none" stroke-width="1"/>
<circle cx="484.76" cy="95.10" r="2.7" fill="#000" stroke="none" stroke-width="1"/>
<circle cx="484.57" cy="93.35" r="2.7" fill="#000" stroke="none" stroke-width="1"/>
<circle cx="484.26" cy="92.08" r="2.7" fill="#000" stroke="none" stroke-width="1"/>
<circle cx="485.15" cy="90.49" r="2.7" fill="#000" stroke="none" stroke-width="1"/>
<circle cx="484.54" cy="89.89" r="2.7" fill="#000" stroke="none" stroke-width="1"/>
<circle cx="484.94" cy="87.92" r="2.7" fill="#000" stroke="none" stroke-width="1"/>
<circle cx="484.92" cy="87.14" r="2.7" fill="#000" stroke="none" stroke-width="1"/>
<circle cx="485.71" cy="86.29" r="2.7" fill="#000" stroke="none" stroke-width="1"/>
<circle cx="486.92" cy="85.02" r="2.7" fill="#000" stroke="none" stroke-width="1"/>
<circle cx="486.25" cy="82.84" r="2.7" fill="#000" stroke="none" stroke-width="1"/>
<circle cx="486.30" cy="81.98" r="2.7" fill="#000" stroke="none" stroke-width="1"/>
<circle cx="487.61" cy="80.66" r="2.7" fill="#000" stroke="none" stroke-width="1"/>
<circle cx="487.21" cy="79.36" r="2.7" fill="#000" stroke="none" stroke-width="1"/>
<circle cx="488.20" cy="78.36" r="2.7" fill="#000" stroke="none" stroke-width="1"/>
<circle cx="488.77" cy="77.27" r="2.7" fill="#000" stroke="none" stroke-width="1"/>
<circle cx="489.01" cy="75.28" r="2.7" fill="#000" stroke="none" stroke-width="1"/>
<circle cx="489.66" cy="74.19" r="2.7" fill="#000" stroke="none" stroke-width="1"/>
<circle cx="489.59" cy="73.01" r="2.7" fill="#000" stroke="none" stroke-width="1"/>
<circle cx="490.23" cy="71.58" r="2.7" fill="#000" stroke="none" stroke-width="1"/>
<circle cx="489.84" cy="70.37" r="2.7" fill="#000" stroke="none" stroke-width="1"/>
<circle cx="490.10" cy="69.76" r="2.7" fill="#000" stroke="none" stroke-width="1"/>
<circle cx="491.19" cy="67.95" r="2.7" fill="#000" stroke="none" stroke-width="1"/>
<circle cx="491.30" cy="67.37" r="2.7" fill="#000" stroke="none" stroke-width="1"/>
<circle cx="491.88" cy="65.35" r="2.7" fill="#000" stroke="none" stroke-width="1"/>
<circle cx="492.77" cy="64.53" r="2.7" fill="#000" stroke="none" stroke-width="1"/>
<circle cx="493.56" cy="62.76" r="2.7" fill="#000" stroke="none" stroke-width="1"/>
<circle cx="493.26" cy="62.27" r="2.7" fill="#000" stroke="none" stroke-width="1"/>
<circle cx="494.38" cy="61.16" r="2.7" fill="#000" stroke="none" stroke-width="1"/>
<circle cx="493.63" cy="59.34" r="2.7" fill="#000" stroke="none" stroke-width="1"/>
<circle cx="494.28" cy="58.03" r="2.7" fill="#000" stroke="none" stroke-width="1"/>
<circle cx="496.50" cy="57.44" r="2.7" fill="#000" stroke="none" stroke-width="1"/>
<circle cx="497.36" cy="56.30" r="2.7" fill="#000" stroke="none" stroke-width="1"/>
<circle cx="498.19" cy="55.45" r="2.7" fill="#000" stroke="none" stroke-width="1"/>
<circle cx="503.20" cy="57.00" r="2.5" fill="#000" stroke="none" stroke-width="1"/>
<circle cx="509.70" cy="55.90" r="2.5" fill="#000" stroke="none" stroke-width="1"/>
<circle cx="515.90" cy="55.20" r="2.5" fill="#000" stroke="none" stroke-width="1"/>
<circle cx="518.30" cy="54.30" r="2.5" fill="#000" stroke="none" stroke-width="1"/>
<circle cx="521.00" cy="53.50" r="2.5" fill="#000" stroke="none" stroke-width="1"/>
<path d="M495.9 51.6 L502.1 51.6 L501.9 160 L499.0 165.5 L496.0 160 Z" fill="#f01010"/>
<rect x="320.00" y="15.40" width="214.20" height="172.80" fill="none" stroke="#999" stroke-width="1.2" />
<line x1="320.00" y1="161.40" x2="323.00" y2="161.40" stroke="#999" stroke-width="1"/>
<line x1="320.00" y1="134.30" x2="321.80" y2="134.30" stroke="#999" stroke-width="1"/>
<line x1="320.00" y1="107.20" x2="323.00" y2="107.20" stroke="#999" stroke-width="1"/>
<line x1="320.00" y1="80.10" x2="321.80" y2="80.10" stroke="#999" stroke-width="1"/>
<line x1="320.00" y1="53.00" x2="323.00" y2="53.00" stroke="#999" stroke-width="1"/>
<line x1="320.00" y1="25.90" x2="321.80" y2="25.90" stroke="#999" stroke-width="1"/>
<line x1="333.35" y1="188.20" x2="333.35" y2="186.20" stroke="#999" stroke-width="1"/>
<line x1="342.91" y1="188.20" x2="342.91" y2="186.20" stroke="#999" stroke-width="1"/>
<line x1="349.69" y1="188.20" x2="349.69" y2="186.20" stroke="#999" stroke-width="1"/>
<line x1="354.95" y1="188.20" x2="354.95" y2="186.20" stroke="#999" stroke-width="1"/>
<line x1="359.25" y1="188.20" x2="359.25" y2="186.20" stroke="#999" stroke-width="1"/>
<line x1="362.89" y1="188.20" x2="362.89" y2="186.20" stroke="#999" stroke-width="1"/>
<line x1="366.04" y1="188.20" x2="366.04" y2="186.20" stroke="#999" stroke-width="1"/>
<line x1="368.82" y1="188.20" x2="368.82" y2="186.20" stroke="#999" stroke-width="1"/>
<line x1="371.30" y1="188.20" x2="371.30" y2="184.70" stroke="#999" stroke-width="1"/>
<line x1="387.65" y1="188.20" x2="387.65" y2="186.20" stroke="#999" stroke-width="1"/>
<line x1="397.21" y1="188.20" x2="397.21" y2="186.20" stroke="#999" stroke-width="1"/>
<line x1="403.99" y1="188.20" x2="403.99" y2="186.20" stroke="#999" stroke-width="1"/>
<line x1="409.25" y1="188.20" x2="409.25" y2="186.20" stroke="#999" stroke-width="1"/>
<line x1="413.55" y1="188.20" x2="413.55" y2="186.20" stroke="#999" stroke-width="1"/>
<line x1="417.19" y1="188.20" x2="417.19" y2="186.20" stroke="#999" stroke-width="1"/>
<line x1="420.34" y1="188.20" x2="420.34" y2="186.20" stroke="#999" stroke-width="1"/>
<line x1="423.12" y1="188.20" x2="423.12" y2="186.20" stroke="#999" stroke-width="1"/>
<line x1="425.60" y1="188.20" x2="425.60" y2="184.70" stroke="#999" stroke-width="1"/>
<line x1="441.95" y1="188.20" x2="441.95" y2="186.20" stroke="#999" stroke-width="1"/>
<line x1="451.51" y1="188.20" x2="451.51" y2="186.20" stroke="#999" stroke-width="1"/>
<line x1="458.29" y1="188.20" x2="458.29" y2="186.20" stroke="#999" stroke-width="1"/>
<line x1="463.55" y1="188.20" x2="463.55" y2="186.20" stroke="#999" stroke-width="1"/>
<line x1="467.85" y1="188.20" x2="467.85" y2="186.20" stroke="#999" stroke-width="1"/>
<line x1="471.49" y1="188.20" x2="471.49" y2="186.20" stroke="#999" stroke-width="1"/>
<line x1="474.64" y1="188.20" x2="474.64" y2="186.20" stroke="#999" stroke-width="1"/>
<line x1="477.42" y1="188.20" x2="477.42" y2="186.20" stroke="#999" stroke-width="1"/>
<line x1="479.90" y1="188.20" x2="479.90" y2="184.70" stroke="#999" stroke-width="1"/>
<line x1="496.25" y1="188.20" x2="496.25" y2="186.20" stroke="#999" stroke-width="1"/>
<line x1="505.81" y1="188.20" x2="505.81" y2="186.20" stroke="#999" stroke-width="1"/>
<line x1="512.59" y1="188.20" x2="512.59" y2="186.20" stroke="#999" stroke-width="1"/>
<line x1="517.85" y1="188.20" x2="517.85" y2="186.20" stroke="#999" stroke-width="1"/>
<line x1="522.15" y1="188.20" x2="522.15" y2="186.20" stroke="#999" stroke-width="1"/>
<line x1="525.79" y1="188.20" x2="525.79" y2="186.20" stroke="#999" stroke-width="1"/>
<line x1="528.94" y1="188.20" x2="528.94" y2="186.20" stroke="#999" stroke-width="1"/>
<line x1="531.72" y1="188.20" x2="531.72" y2="186.20" stroke="#999" stroke-width="1"/>
<text x="315.50" y="166.40" font-size="13.5" text-anchor="end" fill="#1e1e1e" color="#1e1e1e" >0.0</text>
<text x="315.50" y="112.20" font-size="13.5" text-anchor="end" fill="#1e1e1e" color="#1e1e1e" >0.5</text>
<text x="315.50" y="58.00" font-size="13.5" text-anchor="end" fill="#1e1e1e" color="#1e1e1e" >1.0</text>
<text x="371.30" y="204.6" font-size="13.3" text-anchor="middle" fill="#1e1e1e" color="#1e1e1e">10<tspan font-size="9.3" dy="-5.4">7</tspan></text>
<text x="425.60" y="204.6" font-size="13.3" text-anchor="middle" fill="#1e1e1e" color="#1e1e1e">10<tspan font-size="9.3" dy="-5.4">8</tspan></text>
<text x="479.90" y="204.6" font-size="13.3" text-anchor="middle" fill="#1e1e1e" color="#1e1e1e">10<tspan font-size="9.3" dy="-5.4">9</tspan></text>
<text x="534.20" y="204.6" font-size="13.3" text-anchor="middle" fill="#1e1e1e" color="#1e1e1e">10<tspan font-size="9.3" dy="-5.4">10</tspan></text>
<text x="279.50" y="22.30" font-size="14" text-anchor="start" fill="#1e1e1e" color="#1e1e1e" >(b)</text>
<text transform="translate(292.2,100.5) rotate(-90)" font-size="14.3" text-anchor="middle" fill="#1e1e1e" color="#1e1e1e">Cumulative Frequency</text>
<text x="427.10" y="229.20" font-size="14.5" text-anchor="middle" fill="#1e1e1e" color="#1e1e1e" >Resistance (Ω)</text>
<rect x="334.00" y="20.00" width="160.50" height="27.00" fill="#000" stroke="none" stroke-width="1" />
<rect x="331.50" y="17.50" width="160.50" height="27.00" fill="#fff" stroke="#888" stroke-width="1" />
<circle cx="344.00" cy="25.40" r="2.0" fill="#fff" stroke="#666" stroke-width="1.0"/>
<circle cx="344.00" cy="36.80" r="2.4" fill="#000" stroke="none" stroke-width="1"/>
<path d="M424.10 23.20L429.50 23.20L426.80 28.00Z" fill="#fff" stroke="#d03040" stroke-width="1.1"/>
<path d="M423.90 34.55L429.70 34.55L426.80 39.85Z" fill="#f01010" stroke="none" stroke-width="1"/>
<text x="359.20" y="27.90" font-size="10.4" text-anchor="start" fill="#222" color="#222" >S0 LRS</text>
<text x="359.20" y="40.60" font-size="10.4" text-anchor="start" fill="#222" color="#222" >S0 HRS</text>
<text x="441.80" y="27.90" font-size="10.4" text-anchor="start" fill="#222" color="#222" >S120 LRS</text>
<text x="441.80" y="40.60" font-size="10.4" text-anchor="start" fill="#222" color="#222" >S120 HRS</text>
<text transform="translate(338.20,177.60) rotate(-90)" font-size="11" fill="#c8303c" color="#c8303c" style="stroke-width:0.3px">CV<tspan font-size="7.2" dy="4.8">S120_LRS</tspan><tspan dy="-4.8"></tspan></text>
<text transform="translate(351.0,128.8) rotate(-90) scale(0.78,1)" font-size="13.5" fill="#c8303c" color="#c8303c" style="stroke-width:0.35px">=0.048</text>
<text transform="translate(518.60,169.20) rotate(-90)" font-size="11" fill="#c8303c" color="#c8303c" style="stroke-width:0.3px">CV<tspan font-size="7.2" dy="2.6">S120_HRS</tspan><tspan dy="-2.6">=0.018</tspan></text>
<text transform="translate(363.40,177.10) rotate(-57)" font-size="11" fill="#1e1e1e" color="#1e1e1e" style="stroke-width:0.3px">CV<tspan font-size="7.2" dy="2.6">S0_LRS</tspan><tspan dy="-4.4">=0.297</tspan></text>
<text transform="translate(428.20,167.70) rotate(-57)" font-size="11" fill="#1e1e1e" color="#1e1e1e" style="stroke-width:0.3px">CV<tspan font-size="7.2" dy="2.6">S0_HRS</tspan><tspan dy="-4.4">=0.771</tspan></text>
<rect x="190.22" y="375.85" width="11.14" height="14.35" fill="url(#hg)" stroke="#40b040" stroke-width="0.8" />
<rect x="201.36" y="318.45" width="11.14" height="71.75" fill="url(#hg)" stroke="#40b040" stroke-width="0.8" />
<rect x="212.50" y="261.05" width="11.14" height="129.15" fill="url(#hg)" stroke="#40b040" stroke-width="0.8" />
<rect x="223.64" y="332.80" width="11.14" height="57.40" fill="url(#hg)" stroke="#40b040" stroke-width="0.8" />
<rect x="234.78" y="375.85" width="11.14" height="14.35" fill="url(#hg)" stroke="#40b040" stroke-width="0.8" />
<rect x="112.24" y="375.85" width="11.14" height="14.35" fill="url(#ht)" stroke="#a89888" stroke-width="0.8" />
<rect x="123.38" y="375.85" width="11.14" height="14.35" fill="url(#ht)" stroke="#a89888" stroke-width="0.8" />
<rect x="134.52" y="347.15" width="11.14" height="43.05" fill="url(#ht)" stroke="#a89888" stroke-width="0.8" />
<rect x="145.66" y="332.80" width="11.14" height="57.40" fill="url(#ht)" stroke="#a89888" stroke-width="0.8" />
<rect x="156.80" y="318.45" width="11.14" height="71.75" fill="url(#ht)" stroke="#a89888" stroke-width="0.8" />
<rect x="167.94" y="347.15" width="11.14" height="43.05" fill="url(#ht)" stroke="#a89888" stroke-width="0.8" />
<rect x="179.08" y="375.85" width="11.14" height="14.35" fill="url(#ht)" stroke="#a89888" stroke-width="0.8" />
<rect x="190.22" y="375.85" width="11.14" height="14.35" fill="url(#ht)" stroke="#a89888" stroke-width="0.8" />
<rect x="201.36" y="375.85" width="11.14" height="14.35" fill="url(#ht)" stroke="#a89888" stroke-width="0.8" />
<rect x="190.22" y="375.85" width="11.14" height="14.35" fill="url(#ho)" stroke="#a09878" stroke-width="0.8" />
<rect x="190.22" y="375.85" width="11.14" height="14.35" fill="url(#ho2)" stroke="none" stroke-width="1" />
<rect x="201.36" y="375.85" width="11.14" height="14.35" fill="url(#ho)" stroke="#a09878" stroke-width="0.8" />
<rect x="201.36" y="375.85" width="11.14" height="14.35" fill="url(#ho2)" stroke="none" stroke-width="1" />
<path d="M81.00,389.95 L81.50,389.93 L82.00,389.91 L82.50,389.89 L83.00,389.87 L83.50,389.84 L84.00,389.81 L84.50,389.78 L85.00,389.75 L85.50,389.72 L86.00,389.68 L86.50,389.64 L87.00,389.60 L87.50,389.56 L88.00,389.51 L88.50,389.47 L89.00,389.41 L89.50,389.36 L90.00,389.30 L90.50,389.24 L91.00,389.17 L91.50,389.10 L92.00,389.03 L92.50,388.95 L93.00,388.86 L93.50,388.78 L94.00,388.68 L94.50,388.58 L95.00,388.48 L95.50,388.37 L96.00,388.26 L96.50,388.13 L97.00,388.01 L97.50,387.87 L98.00,387.73 L98.50,387.58 L99.00,387.42 L99.50,387.26 L100.00,387.08 L100.50,386.90 L101.00,386.71 L101.50,386.51 L102.00,386.30 L102.50,386.08 L103.00,385.85 L103.50,385.62 L104.00,385.37 L104.50,385.11 L105.00,384.83 L105.50,384.55 L106.00,384.25 L106.50,383.95 L107.00,383.63 L107.50,383.29 L108.00,382.95 L108.50,382.59 L109.00,382.21 L109.50,381.83 L110.00,381.42 L110.50,381.01 L111.00,380.58 L111.50,380.13 L112.00,379.67 L112.50,379.19 L113.00,378.70 L113.50,378.19 L114.00,377.67 L114.50,377.13 L115.00,376.57 L115.50,376.00 L116.00,375.41 L116.50,374.81 L117.00,374.18 L117.50,373.55 L118.00,372.89 L118.50,372.22 L119.00,371.53 L119.50,370.83 L120.00,370.11 L120.50,369.37 L121.00,368.62 L121.50,367.85 L122.00,367.06 L122.50,366.27 L123.00,365.45 L123.50,364.62 L124.00,363.78 L124.50,362.93 L125.00,362.06 L125.50,361.18 L126.00,360.28 L126.50,359.38 L127.00,358.46 L127.50,357.54 L128.00,356.60 L128.50,355.66 L129.00,354.70 L129.50,353.74 L130.00,352.77 L130.50,351.80 L131.00,350.82 L131.50,349.84 L132.00,348.86 L132.50,347.87 L133.00,346.88 L133.50,345.89 L134.00,344.90 L134.50,343.92 L135.00,342.93 L135.50,341.95 L136.00,340.98 L136.50,340.01 L137.00,339.05 L137.50,338.10 L138.00,337.16 L138.50,336.23 L139.00,335.31 L139.50,334.40 L140.00,333.51 L140.50,332.63 L141.00,331.77 L141.50,330.93 L142.00,330.11 L142.50,329.30 L143.00,328.52 L143.50,327.76 L144.00,327.03 L144.50,326.31 L145.00,325.63 L145.50,324.97 L146.00,324.33 L146.50,323.73 L147.00,323.15 L147.50,322.61 L148.00,322.09 L148.50,321.61 L149.00,321.16 L149.50,320.74 L150.00,320.35 L150.50,320.00 L151.00,319.69 L151.50,319.40 L152.00,319.16 L152.50,318.95 L153.00,318.78 L153.50,318.64 L154.00,318.54 L154.50,318.48 L155.00,318.45 L155.50,318.46 L156.00,318.51 L156.50,318.60 L157.00,318.72 L157.50,318.88 L158.00,319.07 L158.50,319.30 L159.00,319.57 L159.50,319.87 L160.00,320.21 L160.50,320.58 L161.00,320.98 L161.50,321.42 L162.00,321.89 L162.50,322.40 L163.00,322.93 L163.50,323.49 L164.00,324.09 L164.50,324.71 L165.00,325.36 L165.50,326.04 L166.00,326.74 L166.50,327.46 L167.00,328.21 L167.50,328.99 L168.00,329.78 L168.50,330.60 L169.00,331.43 L169.50,332.29 L170.00,333.16 L170.50,334.04 L171.00,334.94 L171.50,335.86 L172.00,336.78 L172.50,337.72 L173.00,338.67 L173.50,339.63 L174.00,340.59 L174.50,341.56 L175.00,342.54 L175.50,343.52 L176.00,344.51 L176.50,345.49 L177.00,346.48 L177.50,347.47 L178.00,348.46 L178.50,349.45 L179.00,350.43 L179.50,351.41 L180.00,352.39 L180.50,353.36 L181.00,354.32 L181.50,355.28 L182.00,356.22 L182.50,357.16 L183.00,358.09 L183.50,359.01 L184.00,359.92 L184.50,360.82 L185.00,361.71 L185.50,362.58 L186.00,363.44 L186.50,364.29 L187.00,365.12 L187.50,365.94 L188.00,366.75 L188.50,367.54 L189.00,368.31 L189.50,369.07 L190.00,369.81 L190.50,370.54 L191.00,371.25 L191.50,371.95 L192.00,372.62 L192.50,373.29 L193.00,373.93 L193.50,374.56 L194.00,375.17 L194.50,375.77 L195.00,376.35 L195.50,376.91 L196.00,377.46 L196.50,377.99 L197.00,378.50 L197.50,379.00 L198.00,379.48 L198.50,379.95 L199.00,380.40 L199.50,380.84 L200.00,381.26 L200.50,381.67 L201.00,382.06 L201.50,382.44 L202.00,382.80 L202.50,383.16 L203.00,383.49 L203.50,383.82 L204.00,384.13 L204.50,384.43 L205.00,384.72 L205.50,385.00 L206.00,385.26 L206.50,385.52 L207.00,385.76 L207.50,385.99 L208.00,386.22 L208.50,386.43 L209.00,386.63 L209.50,386.83 L210.00,387.01 L210.50,387.19 L211.00,387.36 L211.50,387.52 L212.00,387.67 L212.50,387.81 L213.00,387.95 L213.50,388.08 L214.00,388.21 L214.50,388.33 L215.00,388.44 L215.50,388.54 L216.00,388.64 L216.50,388.74 L217.00,388.83 L217.50,388.92 L218.00,389.00 L218.50,389.07 L219.00,389.14 L219.50,389.21 L220.00,389.28 L220.50,389.34 L221.00,389.39 L221.50,389.45 L222.00,389.50 L222.50,389.54 L223.00,389.59 L223.50,389.63 L224.00,389.67 L224.50,389.70 L225.00,389.74 L225.50,389.77 L226.00,389.80 L226.50,389.83 L227.00,389.86 L227.50,389.88 L228.00,389.90 L228.50,389.93 L229.00,389.95 L229.50,389.96 L230.00,389.98 L230.50,390.00 L231.00,390.01 L231.50,390.03 L232.00,390.04 L232.50,390.05 L233.00,390.06 L233.50,390.07 L234.00,390.08 L234.50,390.09 L235.00,390.10 L235.50,390.11 L236.00,390.12" fill="none" stroke="#a88c6c" stroke-width="1.1"/>
<path d="M180.00,389.90 L180.50,389.84 L181.00,389.77 L181.50,389.70 L182.00,389.60 L182.50,389.50 L183.00,389.38 L183.50,389.24 L184.00,389.08 L184.50,388.89 L185.00,388.68 L185.50,388.43 L186.00,388.16 L186.50,387.85 L187.00,387.49 L187.50,387.09 L188.00,386.64 L188.50,386.13 L189.00,385.57 L189.50,384.94 L190.00,384.24 L190.50,383.46 L191.00,382.60 L191.50,381.64 L192.00,380.60 L192.50,379.45 L193.00,378.20 L193.50,376.84 L194.00,375.35 L194.50,373.75 L195.00,372.01 L195.50,370.14 L196.00,368.14 L196.50,366.00 L197.00,363.71 L197.50,361.28 L198.00,358.71 L198.50,355.99 L199.00,353.13 L199.50,350.13 L200.00,347.00 L200.50,343.74 L201.00,340.36 L201.50,336.87 L202.00,333.27 L202.50,329.59 L203.00,325.82 L203.50,321.99 L204.00,318.12 L204.50,314.22 L205.00,310.30 L205.50,306.39 L206.00,302.51 L206.50,298.68 L207.00,294.92 L207.50,291.26 L208.00,287.71 L208.50,284.30 L209.00,281.04 L209.50,277.97 L210.00,275.10 L210.50,272.45 L211.00,270.05 L211.50,267.89 L212.00,266.01 L212.50,264.42 L213.00,263.13 L213.50,262.14 L214.00,261.46 L214.50,261.11 L215.00,261.08 L215.50,261.37 L216.00,261.98 L216.50,262.90 L217.00,264.14 L217.50,265.67 L218.00,267.50 L218.50,269.59 L219.00,271.95 L219.50,274.56 L220.00,277.38 L220.50,280.41 L221.00,283.63 L221.50,287.01 L222.00,290.54 L222.50,294.18 L223.00,297.92 L223.50,301.74 L224.00,305.61 L224.50,309.52 L225.00,313.43 L225.50,317.34 L226.00,321.22 L226.50,325.06 L227.00,328.84 L227.50,332.54 L228.00,336.16 L228.50,339.67 L229.00,343.08 L229.50,346.36 L230.00,349.52 L230.50,352.54 L231.00,355.43 L231.50,358.17 L232.00,360.78 L232.50,363.24 L233.00,365.55 L233.50,367.72 L234.00,369.75 L234.50,371.65 L235.00,373.41 L235.50,375.04 L236.00,376.55 L236.50,377.94 L237.00,379.21 L237.50,380.38 L238.00,381.44 L238.50,382.41 L239.00,383.29 L239.50,384.09 L240.00,384.80 L240.50,385.45 L241.00,386.03 L241.50,386.54 L242.00,387.00 L242.50,387.41 L243.00,387.78 L243.50,388.10 L244.00,388.38 L244.50,388.63 L245.00,388.85 L245.50,389.04 L246.00,389.21 L246.50,389.35 L247.00,389.48 L247.50,389.58 L248.00,389.68 L248.50,389.76 L249.00,389.83 L249.50,389.89 L250.00,389.94" fill="none" stroke="#30b030" stroke-width="1.1"/>
<path d="M214.80,261.05 L215.30,261.28 L215.80,261.98 L216.30,263.14 L216.80,264.75 L217.30,266.78 L217.80,269.22 L218.30,272.04 L218.80,275.21 L219.30,278.70 L219.80,282.48 L220.30,286.51 L220.80,290.75 L221.30,295.16 L221.80,299.70 L222.30,304.34 L222.80,309.04 L223.30,313.75 L223.80,318.46 L224.30,323.12 L224.80,327.70 L225.30,332.18 L225.80,336.53 L226.30,340.74 L226.80,344.79 L227.30,348.65 L227.80,352.32 L228.30,355.79 L228.80,359.06 L229.30,362.12 L229.80,364.97 L230.30,367.62 L230.80,370.06 L231.30,372.30 L231.80,374.35 L232.30,376.21 L232.80,377.90 L233.30,379.43 L233.80,380.80 L234.30,382.02 L234.80,383.12 L235.30,384.08 L235.80,384.94 L236.30,385.69 L236.80,386.35 L237.30,386.92 L237.80,387.42 L238.30,387.85 L238.80,388.23 L239.30,388.54 L239.80,388.82 L240.30,389.05 L240.80,389.24 L241.30,389.41 L241.80,389.55 L242.30,389.67 L242.80,389.76 L243.30,389.84 L243.80,389.91 L244.30,389.97 L244.80,390.01 L245.30,390.05 L245.80,390.08" fill="none" stroke="#30b030" stroke-width="0.9"/>
<rect x="51.00" y="232.70" width="212.20" height="157.50" fill="none" stroke="#808080" stroke-width="1.2" />
<line x1="48.00" y1="390.20" x2="51.00" y2="390.20" stroke="#808080" stroke-width="1"/>
<line x1="49.40" y1="375.85" x2="51.00" y2="375.85" stroke="#808080" stroke-width="1"/>
<line x1="48.00" y1="361.50" x2="51.00" y2="361.50" stroke="#808080" stroke-width="1"/>
<line x1="49.40" y1="347.15" x2="51.00" y2="347.15" stroke="#808080" stroke-width="1"/>
<line x1="48.00" y1="332.80" x2="51.00" y2="332.80" stroke="#808080" stroke-width="1"/>
<line x1="49.40" y1="318.45" x2="51.00" y2="318.45" stroke="#808080" stroke-width="1"/>
<line x1="48.00" y1="304.10" x2="51.00" y2="304.10" stroke="#808080" stroke-width="1"/>
<line x1="49.40" y1="289.75" x2="51.00" y2="289.75" stroke="#808080" stroke-width="1"/>
<line x1="48.00" y1="275.40" x2="51.00" y2="275.40" stroke="#808080" stroke-width="1"/>
<line x1="49.40" y1="261.05" x2="51.00" y2="261.05" stroke="#808080" stroke-width="1"/>
<line x1="48.00" y1="246.70" x2="51.00" y2="246.70" stroke="#808080" stroke-width="1"/>
<line x1="73.25" y1="390.20" x2="73.25" y2="392.20" stroke="#808080" stroke-width="1"/>
<line x1="101.10" y1="390.20" x2="101.10" y2="393.70" stroke="#808080" stroke-width="1"/>
<line x1="128.95" y1="390.20" x2="128.95" y2="392.20" stroke="#808080" stroke-width="1"/>
<line x1="156.80" y1="390.20" x2="156.80" y2="393.70" stroke="#808080" stroke-width="1"/>
<line x1="184.65" y1="390.20" x2="184.65" y2="392.20" stroke="#808080" stroke-width="1"/>
<line x1="212.50" y1="390.20" x2="212.50" y2="393.70" stroke="#808080" stroke-width="1"/>
<line x1="240.35" y1="390.20" x2="240.35" y2="392.20" stroke="#808080" stroke-width="1"/>
<text x="47.30" y="394.70" font-size="12.6" text-anchor="end" fill="#1e1e1e" color="#1e1e1e" >0</text>
<text x="47.30" y="366.00" font-size="12.6" text-anchor="end" fill="#1e1e1e" color="#1e1e1e" >2</text>
<text x="47.30" y="337.30" font-size="12.6" text-anchor="end" fill="#1e1e1e" color="#1e1e1e" >4</text>
<text x="47.30" y="308.60" font-size="12.6" text-anchor="end" fill="#1e1e1e" color="#1e1e1e" >6</text>
<text x="47.30" y="279.90" font-size="12.6" text-anchor="end" fill="#1e1e1e" color="#1e1e1e" >8</text>
<text x="47.30" y="251.20" font-size="12.6" text-anchor="end" fill="#1e1e1e" color="#1e1e1e" >10</text>
<text x="99.60" y="406.30" font-size="13.3" text-anchor="middle" fill="#1e1e1e" color="#1e1e1e" >−5</text>
<text x="153.60" y="406.30" font-size="13.3" text-anchor="middle" fill="#1e1e1e" color="#1e1e1e" >−4</text>
<text x="208.80" y="406.30" font-size="13.3" text-anchor="middle" fill="#1e1e1e" color="#1e1e1e" >−3</text>
<text x="17.30" y="244.50" font-size="12.6" text-anchor="start" fill="#3a3a3a" color="#3a3a3a" >(c)</text>
<text transform="translate(28.2,311) rotate(-90)" font-size="13.1" text-anchor="middle" fill="#1e1e1e" color="#1e1e1e">Count</text>
<text x="157.40" y="424.60" font-size="13.25" text-anchor="middle" fill="#1e1e1e" color="#1e1e1e" >Reset voltage (V)</text>
<rect x="58.70" y="237.30" width="41.70" height="21.20" fill="#fff" stroke="#8c8c8c" stroke-width="1" />
<rect x="59.20" y="237.80" width="18.60" height="9.00" fill="url(#hgl)" stroke="#7a7a7a" stroke-width="0.6" />
<rect x="59.20" y="246.80" width="18.60" height="11.20" fill="url(#htl)" stroke="#7a7a7a" stroke-width="0.6" />
<text x="80.00" y="246.20" font-size="8.3" text-anchor="start" fill="#484848" color="#484848" >S120</text>
<text x="80.00" y="257.00" font-size="8.3" text-anchor="start" fill="#484848" color="#484848" >S0</text>
<rect x="339.50" y="373.85" width="10.10" height="17.55" fill="url(#hg)" stroke="#40b040" stroke-width="0.8" />
<rect x="349.60" y="321.20" width="10.10" height="70.20" fill="url(#hg)" stroke="#40b040" stroke-width="0.8" />
<rect x="359.70" y="286.10" width="10.10" height="105.30" fill="url(#hg)" stroke="#40b040" stroke-width="0.8" />
<rect x="369.80" y="268.55" width="10.10" height="122.85" fill="url(#hg)" stroke="#40b040" stroke-width="0.8" />
<rect x="379.90" y="356.30" width="10.10" height="35.10" fill="url(#hg)" stroke="#40b040" stroke-width="0.8" />
<rect x="390.00" y="373.85" width="10.10" height="17.55" fill="url(#ht)" stroke="#a89888" stroke-width="0.8" />
<rect x="410.20" y="373.85" width="10.10" height="17.55" fill="url(#ht)" stroke="#a89888" stroke-width="0.8" />
<rect x="420.30" y="356.30" width="10.10" height="35.10" fill="url(#ht)" stroke="#a89888" stroke-width="0.8" />
<rect x="430.40" y="356.30" width="10.10" height="35.10" fill="url(#ht)" stroke="#a89888" stroke-width="0.8" />
<rect x="440.50" y="338.75" width="10.10" height="52.65" fill="url(#ht)" stroke="#a89888" stroke-width="0.8" />
<rect x="450.60" y="303.65" width="10.10" height="87.75" fill="url(#ht)" stroke="#a89888" stroke-width="0.8" />
<rect x="460.70" y="356.30" width="10.10" height="35.10" fill="url(#ht)" stroke="#a89888" stroke-width="0.8" />
<rect x="470.80" y="356.30" width="10.10" height="35.10" fill="url(#ht)" stroke="#a89888" stroke-width="0.8" />
<rect x="480.90" y="373.85" width="10.10" height="17.55" fill="url(#ht)" stroke="#a89888" stroke-width="0.8" />
<rect x="501.10" y="373.85" width="10.10" height="17.55" fill="url(#ht)" stroke="#a89888" stroke-width="0.8" />
<path d="M319.90,391.40 L320.40,391.40 L320.90,391.40 L321.40,391.40 L321.90,391.40 L322.40,391.40 L322.90,391.40 L323.40,391.40 L323.90,391.40 L324.40,391.40 L324.90,391.40 L325.40,391.40 L325.90,391.40 L326.40,391.40 L326.90,391.40 L327.40,391.40 L327.90,391.40 L328.40,391.40 L328.90,391.40 L329.40,391.40 L329.90,391.40 L330.40,391.40 L330.90,391.40 L331.40,391.40 L331.90,391.40 L332.40,391.40 L332.90,391.40 L333.40,391.40 L333.90,391.40 L334.40,391.40 L334.90,391.40 L335.40,391.40 L335.90,391.40 L336.40,391.40 L336.90,391.40 L337.40,391.40 L337.90,391.40 L338.40,391.40 L338.90,391.40 L339.40,391.40 L339.90,391.40 L340.40,391.40 L340.90,391.40 L341.40,391.40 L341.90,391.40 L342.40,391.40 L342.90,391.40 L343.40,391.40 L343.90,391.40 L344.40,391.40 L344.90,391.40 L345.40,391.40 L345.90,391.40 L346.40,391.40 L346.90,391.40 L347.40,391.40 L347.90,391.40 L348.40,391.40 L348.90,391.40 L349.40,391.40 L349.90,391.40 L350.40,391.40 L350.90,391.40 L351.40,391.40 L351.90,391.40 L352.40,391.40 L352.90,391.40 L353.40,391.40 L353.90,391.40 L354.40,391.40 L354.90,391.39 L355.40,391.39 L355.90,391.39 L356.40,391.39 L356.90,391.39 L357.40,391.39 L357.90,391.39 L358.40,391.39 L358.90,391.39 L359.40,391.39 L359.90,391.39 L360.40,391.38 L360.90,391.38 L361.40,391.38 L361.90,391.38 L362.40,391.38 L362.90,391.38 L363.40,391.37 L363.90,391.37 L364.40,391.37 L364.90,391.36 L365.40,391.36 L365.90,391.36 L366.40,391.35 L366.90,391.35 L367.40,391.34 L367.90,391.34 L368.40,391.33 L368.90,391.33 L369.40,391.32 L369.90,391.31 L370.40,391.31 L370.90,391.30 L371.40,391.29 L371.90,391.28 L372.40,391.27 L372.90,391.26 L373.40,391.25 L373.90,391.23 L374.40,391.22 L374.90,391.20 L375.40,391.19 L375.90,391.17 L376.40,391.15 L376.90,391.13 L377.40,391.11 L377.90,391.08 L378.40,391.06 L378.90,391.03 L379.40,391.00 L379.90,390.97 L380.40,390.94 L380.90,390.90 L381.40,390.86 L381.90,390.82 L382.40,390.78 L382.90,390.73 L383.40,390.68 L383.90,390.63 L384.40,390.58 L384.90,390.52 L385.40,390.45 L385.90,390.38 L386.40,390.31 L386.90,390.24 L387.40,390.15 L387.90,390.07 L388.40,389.98 L388.90,389.88 L389.40,389.78 L389.90,389.67 L390.40,389.55 L390.90,389.43 L391.40,389.30 L391.90,389.17 L392.40,389.02 L392.90,388.87 L393.40,388.71 L393.90,388.55 L394.40,388.37 L394.90,388.18 L395.40,387.99 L395.90,387.78 L396.40,387.57 L396.90,387.34 L397.40,387.10 L397.90,386.85 L398.40,386.59 L398.90,386.32 L399.40,386.03 L399.90,385.73 L400.40,385.42 L400.90,385.10 L401.40,384.76 L401.90,384.40 L402.40,384.03 L402.90,383.64 L403.40,383.24 L403.90,382.82 L404.40,382.39 L404.90,381.94 L405.40,381.47 L405.90,380.98 L406.40,380.48 L406.90,379.96 L407.40,379.41 L407.90,378.85 L408.40,378.27 L408.90,377.67 L409.40,377.06 L409.90,376.42 L410.40,375.76 L410.90,375.08 L411.40,374.38 L411.90,373.66 L412.40,372.92 L412.90,372.15 L413.40,371.37 L413.90,370.57 L414.40,369.74 L414.90,368.90 L415.40,368.03 L415.90,367.15 L416.40,366.24 L416.90,365.31 L417.40,364.37 L417.90,363.40 L418.40,362.42 L418.90,361.41 L419.40,360.39 L419.90,359.35 L420.40,358.30 L420.90,357.22 L421.40,356.13 L421.90,355.03 L422.40,353.91 L422.90,352.78 L423.40,351.63 L423.90,350.47 L424.40,349.30 L424.90,348.12 L425.40,346.93 L425.90,345.73 L426.40,344.52 L426.90,343.31 L427.40,342.09 L427.90,340.87 L428.40,339.65 L428.90,338.42 L429.40,337.20 L429.90,335.97 L430.40,334.75 L430.90,333.53 L431.40,332.32 L431.90,331.11 L432.40,329.91 L432.90,328.72 L433.40,327.54 L433.90,326.37 L434.40,325.22 L434.90,324.08 L435.40,322.96 L435.90,321.86 L436.40,320.78 L436.90,319.72 L437.40,318.68 L437.90,317.66 L438.40,316.67 L438.90,315.71 L439.40,314.78 L439.90,313.87 L440.40,313.00 L440.90,312.16 L441.40,311.35 L441.90,310.58 L442.40,309.84 L442.90,309.14 L443.40,308.48 L443.90,307.85 L444.40,307.27 L444.90,306.73 L445.40,306.23 L445.90,305.77 L446.40,305.36 L446.90,304.99 L447.40,304.66 L447.90,304.38 L448.40,304.14 L448.90,303.95 L449.40,303.81 L449.90,303.71 L450.40,303.66 L450.90,303.65 L451.40,303.70 L451.90,303.78 L452.40,303.92 L452.90,304.10 L453.40,304.33 L453.90,304.60 L454.40,304.92 L454.90,305.28 L455.40,305.68 L455.90,306.13 L456.40,306.63 L456.90,307.16 L457.40,307.73 L457.90,308.35 L458.40,309.00 L458.90,309.70 L459.40,310.43 L459.90,311.19 L460.40,311.99 L460.90,312.83 L461.40,313.69 L461.90,314.59 L462.40,315.52 L462.90,316.48 L463.40,317.46 L463.90,318.47 L464.40,319.51 L464.90,320.56 L465.40,321.64 L465.90,322.74 L466.40,323.86 L466.90,324.99 L467.40,326.14 L467.90,327.31 L468.40,328.48 L468.90,329.67 L469.40,330.87 L469.90,332.07 L470.40,333.29 L470.90,334.50 L471.40,335.73 L471.90,336.95 L472.40,338.18 L472.90,339.40 L473.40,340.63 L473.90,341.85 L474.40,343.07 L474.90,344.28 L475.40,345.49 L475.90,346.69 L476.40,347.88 L476.90,349.06 L477.40,350.24 L477.90,351.40 L478.40,352.55 L478.90,353.68 L479.40,354.81 L479.90,355.91 L480.40,357.01 L480.90,358.08 L481.40,359.14 L481.90,360.19 L482.40,361.21 L482.90,362.22 L483.40,363.21 L483.90,364.18 L484.40,365.13 L484.90,366.06 L485.40,366.97 L485.90,367.86 L486.40,368.73 L486.90,369.58 L487.40,370.40 L487.90,371.21 L488.40,372.00 L488.90,372.76 L489.40,373.51 L489.90,374.24 L490.40,374.94 L490.90,375.62 L491.40,376.29 L491.90,376.93 L492.40,377.55 L492.90,378.16 L493.40,378.74 L493.90,379.30 L494.40,379.85 L494.90,380.38 L495.40,380.88 L495.90,381.37 L496.40,381.85 L496.90,382.30 L497.40,382.74 L497.90,383.16 L498.40,383.57 L498.90,383.95 L499.40,384.33 L499.90,384.69 L500.40,385.03 L500.90,385.36 L501.40,385.67 L501.90,385.98 L502.40,386.26 L502.90,386.54 L503.40,386.80 L503.90,387.05 L504.40,387.29 L504.90,387.52 L505.40,387.74 L505.90,387.95 L506.40,388.14 L506.90,388.33 L507.40,388.51 L507.90,388.68 L508.40,388.84 L508.90,388.99 L509.40,389.14 L509.90,389.28 L510.40,389.41 L510.90,389.53 L511.40,389.65 L511.90,389.76 L512.40,389.86 L512.90,389.96 L513.40,390.05 L513.90,390.14 L514.40,390.22 L514.90,390.30 L515.40,390.37 L515.90,390.44 L516.40,390.50 L516.90,390.56 L517.40,390.62 L517.90,390.67 L518.40,390.72 L518.90,390.77 L519.40,390.82 L519.90,390.86 L520.40,390.90 L520.90,390.93 L521.40,390.97 L521.90,391.00 L522.40,391.03 L522.90,391.05 L523.40,391.08 L523.90,391.10 L524.40,391.13 L524.90,391.15 L525.40,391.17 L525.90,391.18 L526.40,391.20 L526.90,391.22 L527.40,391.23 L527.90,391.24 L528.40,391.26 L528.90,391.27 L529.40,391.28 L529.90,391.29 L530.40,391.30 L530.90,391.31 L531.40,391.31" fill="none" stroke="#a88c6c" stroke-width="1.1"/>
<path d="M327.00,391.30 L327.50,391.28 L328.00,391.25 L328.50,391.22 L329.00,391.19 L329.50,391.15 L330.00,391.11 L330.50,391.06 L331.00,391.00 L331.50,390.93 L332.00,390.84 L332.50,390.75 L333.00,390.64 L333.50,390.52 L334.00,390.38 L334.50,390.22 L335.00,390.04 L335.50,389.83 L336.00,389.59 L336.50,389.33 L337.00,389.03 L337.50,388.69 L338.00,388.31 L338.50,387.89 L339.00,387.42 L339.50,386.90 L340.00,386.32 L340.50,385.67 L341.00,384.96 L341.50,384.18 L342.00,383.33 L342.50,382.39 L343.00,381.36 L343.50,380.25 L344.00,379.03 L344.50,377.72 L345.00,376.30 L345.50,374.77 L346.00,373.13 L346.50,371.38 L347.00,369.50 L347.50,367.50 L348.00,365.38 L348.50,363.14 L349.00,360.77 L349.50,358.27 L350.00,355.66 L350.50,352.93 L351.00,350.08 L351.50,347.12 L352.00,344.06 L352.50,340.89 L353.00,337.65 L353.50,334.32 L354.00,330.92 L354.50,327.46 L355.00,323.96 L355.50,320.43 L356.00,316.89 L356.50,313.34 L357.00,309.81 L357.50,306.32 L358.00,302.87 L358.50,299.50 L359.00,296.21 L359.50,293.03 L360.00,289.97 L360.50,287.06 L361.00,284.30 L361.50,281.72 L362.00,279.33 L362.50,277.15 L363.00,275.19 L363.50,273.46 L364.00,271.98 L364.50,270.76 L365.00,269.80 L365.50,269.11 L366.00,268.69 L366.50,268.55 L367.00,268.69 L367.50,269.11 L368.00,269.80 L368.50,270.76 L369.00,271.98 L369.50,273.46 L370.00,275.19 L370.50,277.15 L371.00,279.33 L371.50,281.72 L372.00,284.30 L372.50,287.06 L373.00,289.97 L373.50,293.03 L374.00,296.21 L374.50,299.50 L375.00,302.87 L375.50,306.32 L376.00,309.81 L376.50,313.34 L377.00,316.89 L377.50,320.43 L378.00,323.96 L378.50,327.46 L379.00,330.92 L379.50,334.32 L380.00,337.65 L380.50,340.89 L381.00,344.06 L381.50,347.12 L382.00,350.08 L382.50,352.93 L383.00,355.66 L383.50,358.27 L384.00,360.77 L384.50,363.14 L385.00,365.38 L385.50,367.50 L386.00,369.50 L386.50,371.38 L387.00,373.13 L387.50,374.77 L388.00,376.30 L388.50,377.72 L389.00,379.03 L389.50,380.25 L390.00,381.36 L390.50,382.39 L391.00,383.33 L391.50,384.18 L392.00,384.96 L392.50,385.67 L393.00,386.32 L393.50,386.90 L394.00,387.42 L394.50,387.89 L395.00,388.31 L395.50,388.69 L396.00,389.03 L396.50,389.33 L397.00,389.59 L397.50,389.83 L398.00,390.04 L398.50,390.22 L399.00,390.38 L399.50,390.52 L400.00,390.64 L400.50,390.75 L401.00,390.84 L401.50,390.93 L402.00,391.00 L402.50,391.06 L403.00,391.11 L403.50,391.15 L404.00,391.19 L404.50,391.22 L405.00,391.25" fill="none" stroke="#30b030" stroke-width="1.1"/>
<rect x="319.90" y="234.00" width="211.70" height="157.40" fill="none" stroke="#808080" stroke-width="1.2" />
<line x1="316.90" y1="391.40" x2="319.90" y2="391.40" stroke="#808080" stroke-width="1"/>
<line x1="318.30" y1="373.85" x2="319.90" y2="373.85" stroke="#808080" stroke-width="1"/>
<line x1="316.90" y1="356.30" x2="319.90" y2="356.30" stroke="#808080" stroke-width="1"/>
<line x1="318.30" y1="338.75" x2="319.90" y2="338.75" stroke="#808080" stroke-width="1"/>
<line x1="316.90" y1="321.20" x2="319.90" y2="321.20" stroke="#808080" stroke-width="1"/>
<line x1="318.30" y1="303.65" x2="319.90" y2="303.65" stroke="#808080" stroke-width="1"/>
<line x1="316.90" y1="286.10" x2="319.90" y2="286.10" stroke="#808080" stroke-width="1"/>
<line x1="318.30" y1="268.55" x2="319.90" y2="268.55" stroke="#808080" stroke-width="1"/>
<line x1="316.90" y1="251.00" x2="319.90" y2="251.00" stroke="#808080" stroke-width="1"/>
<line x1="319.90" y1="391.40" x2="319.90" y2="394.90" stroke="#808080" stroke-width="1"/>
<line x1="333.13" y1="391.40" x2="333.13" y2="393.40" stroke="#808080" stroke-width="1"/>
<line x1="346.36" y1="391.40" x2="346.36" y2="394.90" stroke="#808080" stroke-width="1"/>
<line x1="359.60" y1="391.40" x2="359.60" y2="393.40" stroke="#808080" stroke-width="1"/>
<line x1="372.83" y1="391.40" x2="372.83" y2="394.90" stroke="#808080" stroke-width="1"/>
<line x1="386.06" y1="391.40" x2="386.06" y2="393.40" stroke="#808080" stroke-width="1"/>
<line x1="399.29" y1="391.40" x2="399.29" y2="394.90" stroke="#808080" stroke-width="1"/>
<line x1="412.53" y1="391.40" x2="412.53" y2="393.40" stroke="#808080" stroke-width="1"/>
<line x1="425.76" y1="391.40" x2="425.76" y2="394.90" stroke="#808080" stroke-width="1"/>
<line x1="438.99" y1="391.40" x2="438.99" y2="393.40" stroke="#808080" stroke-width="1"/>
<line x1="452.22" y1="391.40" x2="452.22" y2="394.90" stroke="#808080" stroke-width="1"/>
<line x1="465.46" y1="391.40" x2="465.46" y2="393.40" stroke="#808080" stroke-width="1"/>
<line x1="478.69" y1="391.40" x2="478.69" y2="394.90" stroke="#808080" stroke-width="1"/>
<line x1="491.92" y1="391.40" x2="491.92" y2="393.40" stroke="#808080" stroke-width="1"/>
<line x1="505.15" y1="391.40" x2="505.15" y2="394.90" stroke="#808080" stroke-width="1"/>
<line x1="518.39" y1="391.40" x2="518.39" y2="393.40" stroke="#808080" stroke-width="1"/>
<line x1="531.62" y1="391.40" x2="531.62" y2="394.90" stroke="#808080" stroke-width="1"/>
<text x="316.40" y="395.90" font-size="12.6" text-anchor="end" fill="#1e1e1e" color="#1e1e1e" >0</text>
<text x="316.40" y="360.80" font-size="12.6" text-anchor="end" fill="#1e1e1e" color="#1e1e1e" >2</text>
<text x="316.40" y="325.70" font-size="12.6" text-anchor="end" fill="#1e1e1e" color="#1e1e1e" >4</text>
<text x="316.40" y="290.60" font-size="12.6" text-anchor="end" fill="#1e1e1e" color="#1e1e1e" >6</text>
<text x="316.40" y="255.50" font-size="12.6" text-anchor="end" fill="#1e1e1e" color="#1e1e1e" >8</text>
<text x="319.90" y="405.80" font-size="13.2" text-anchor="middle" fill="#1e1e1e" color="#1e1e1e" >2.0</text>
<text x="346.36" y="405.80" font-size="13.2" text-anchor="middle" fill="#1e1e1e" color="#1e1e1e" >2.5</text>
<text x="372.83" y="405.80" font-size="13.2" text-anchor="middle" fill="#1e1e1e" color="#1e1e1e" >3.0</text>
<text x="399.29" y="405.80" font-size="13.2" text-anchor="middle" fill="#1e1e1e" color="#1e1e1e" >3.5</text>
<text x="425.76" y="405.80" font-size="13.2" text-anchor="middle" fill="#1e1e1e" color="#1e1e1e" >4.0</text>
<text x="452.22" y="405.80" font-size="13.2" text-anchor="middle" fill="#1e1e1e" color="#1e1e1e" >4.5</text>
<text x="478.69" y="405.80" font-size="13.2" text-anchor="middle" fill="#1e1e1e" color="#1e1e1e" >5.0</text>
<text x="505.15" y="405.80" font-size="13.2" text-anchor="middle" fill="#1e1e1e" color="#1e1e1e" >5.5</text>
<text x="531.62" y="405.80" font-size="13.2" text-anchor="middle" fill="#1e1e1e" color="#1e1e1e" >6.0</text>
<text x="290.20" y="246.50" font-size="12.8" text-anchor="start" fill="#3a3a3a" color="#3a3a3a" >(d)</text>
<text transform="translate(304.3,312.3) rotate(-90)" font-size="13.1" text-anchor="middle" fill="#1e1e1e" color="#1e1e1e">Count</text>
<text x="425.50" y="425.10" font-size="13.2" text-anchor="middle" fill="#1e1e1e" color="#1e1e1e" >Set voltage (V)</text>
<rect x="481.50" y="239.50" width="42.00" height="21.00" fill="#fff" stroke="#8c8c8c" stroke-width="1" />
<rect x="482.00" y="240.00" width="18.50" height="9.90" fill="url(#htl)" stroke="#7a7a7a" stroke-width="0.6" />
<rect x="482.00" y="249.90" width="18.50" height="10.10" fill="url(#hgl)" stroke="#7a7a7a" stroke-width="0.6" />
<text x="503.20" y="247.60" font-size="8.3" text-anchor="start" fill="#484848" color="#484848" >S0</text>
<text x="503.20" y="257.80" font-size="8.3" text-anchor="start" fill="#484848" color="#484848" >S120</text>
</svg></body></html>
